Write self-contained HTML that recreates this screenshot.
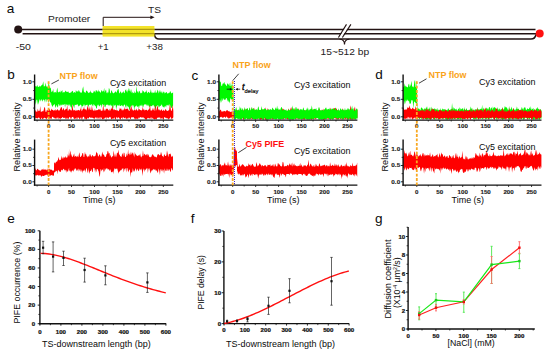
<!DOCTYPE html>
<html><head><meta charset="utf-8"><style>
html,body{margin:0;padding:0;background:#fff;}
svg{display:block;font-family:"Liberation Sans", sans-serif;}
</style></head><body>
<svg width="550" height="353" viewBox="0 0 550 353">
<rect width="550" height="353" fill="#fff"/>
<text x="6.8" y="12.7" font-size="13.6" fill="#0a0a0a">a</text>
<line x1="18" y1="29.5" x2="535.5" y2="29.5" stroke="#231313" stroke-width="1.5" />
<line x1="22.6" y1="33.8" x2="536" y2="33.8" stroke="#231313" stroke-width="1.5" />
<path d="M154.3,33.8 Q155,39.1 159,39.1 L531,39.1 Q535,39.1 536,34.5" fill="none" stroke="#231313" stroke-width="1.5"/>
<path d="M339.6,39.2 C342.6,39.2 344.5,40.2 344.5,44.4 C344.5,40.2 346.4,39.2 349.4,39.2" fill="none" stroke="#231313" stroke-width="1.15"/>
<polygon points="339.2,37.0 347.2,24.4 350.2,24.4 341.9,37.0" fill="#fff"/>
<line x1="338.4" y1="37.5" x2="346.5" y2="24.4" stroke="#231313" stroke-width="1.15" />
<line x1="342.4" y1="37.5" x2="350.9" y2="24.4" stroke="#231313" stroke-width="1.15" />
<rect x="102.6" y="26" width="51.8" height="10.6" fill="#f3e32a"/>
<line x1="102.6" y1="29.3" x2="154.4" y2="29.3" stroke="#b09a10" stroke-width="1.3" />
<line x1="102.6" y1="33.6" x2="154.4" y2="33.6" stroke="#b09a10" stroke-width="1.3" />
<circle cx="18.2" cy="29.5" r="4" fill="#231313"/>
<circle cx="539.7" cy="33.6" r="4" fill="#ff1010"/>
<path d="M103.2,26 V17.3 H151" fill="none" stroke="#231313" stroke-width="1"/>
<polygon points="150.4,15.4 154.6,17.3 150.4,19.2" fill="#231313"/>
<text x="48.1" y="21.9" font-size="8.6" fill="#261c1c" textLength="42.2" lengthAdjust="spacingAndGlyphs">Promoter</text>
<text x="148.1" y="13.1" font-size="8.7" fill="#261c1c" textLength="13" lengthAdjust="spacingAndGlyphs">TS</text>
<text x="15.7" y="49.5" font-size="9.5" fill="#261c1c" textLength="15.2" lengthAdjust="spacingAndGlyphs">-50</text>
<text x="97.7" y="49.5" font-size="9.5" fill="#261c1c" textLength="11" lengthAdjust="spacingAndGlyphs">+1</text>
<text x="146.3" y="49.5" font-size="9.5" fill="#261c1c" textLength="16.6" lengthAdjust="spacingAndGlyphs">+38</text>
<text x="320.6" y="54.8" font-size="8.4" fill="#261c1c" textLength="48.6" lengthAdjust="spacingAndGlyphs">15~512 bp</text>
<polygon points="34.83,85.85 35.41,86.49 36.04,86.04 36.56,87.05 37.19,84.78 37.84,86.75 38.45,86.85 39.02,87.33 39.58,85.57 40.16,86.37 40.89,86.57 41.51,84.89 42.07,85.21 42.69,83.98 43.21,81.22 43.91,86.7 44.5,85.71 44.99,86.65 45.61,82.62 46.26,86.24 46.8,86.84 47.38,86.15 47.96,87.68 48.62,81.88 49.17,84.61 49.76,87.55 50.45,87.87 50.92,88.79 51.41,92.29 52.05,91.43 52.6,91.29 53.13,88.7 53.72,92.7 54.41,91.95 54.95,92.83 55.6,91.86 56.25,93.11 56.78,89.94 57.33,87.52 57.93,92.06 58.57,92.43 59.25,91.18 59.66,92.04 60.44,92.53 60.91,90.23 61.54,91.67 62.22,89.84 62.77,93.04 63.4,91.98 63.99,92.53 64.5,92.26 65.06,91.44 65.8,90.4 66.43,92.11 66.88,91.8 67.58,91.95 68.19,91.36 68.85,92.8 69.27,93 69.95,92.63 70.47,92.99 71.13,91.29 71.66,92.52 72.27,90.79 72.97,91.37 73.6,93.27 74.18,92.29 74.75,92.07 75.44,93.16 75.93,89.78 76.46,91.58 77.09,91.21 77.79,91.83 78.28,89.8 79.04,92.25 79.53,90.15 80.18,93.14 80.82,91.73 81.45,92.95 81.92,92.19 82.49,88.95 83.2,86.36 83.8,91.46 84.36,92.07 85.01,92.77 85.47,93 86.08,91.06 86.83,90.49 87.41,91.52 87.85,92.37 88.65,93.28 89.2,91.89 89.81,92.98 90.33,90.2 90.86,92.16 91.52,92.58 92.17,93.13 92.81,92.84 93.4,92.48 93.93,90.51 94.52,92.02 95.14,89.91 95.74,92.9 96.34,90.08 96.88,90.5 97.46,92.23 98.19,89.51 98.7,91.42 99.42,91.16 99.89,91.84 100.62,92.95 101.15,91.26 101.84,89.71 102.33,92.03 103,90.85 103.53,91.46 104.19,87.75 104.66,92.78 105.32,90.84 106.04,89.51 106.55,92.84 107.14,93.47 107.69,91.96 108.37,92.86 108.9,87.77 109.65,89.55 110.08,92.77 110.73,93.45 111.3,90.11 112.02,91.28 112.5,92.53 113.2,93.14 113.77,93.3 114.44,92.66 114.98,91.72 115.61,91.23 116.14,92.55 116.67,92.57 117.43,89.99 118,89.36 118.47,88.71 119.23,92.99 119.68,93.56 120.41,91.38 120.88,91.52 121.58,93.52 122.09,93.02 122.71,92.26 123.3,91.1 123.94,92.65 124.64,93.19 125.23,89.44 125.73,90.12 126.45,92 126.93,88.97 127.48,92.98 128.25,87.75 128.75,90.75 129.26,91.14 129.91,88.15 130.62,92.5 131.19,89.1 131.8,93.22 132.26,91.5 132.96,93.56 133.63,92.53 134.18,93.47 134.66,90.92 135.35,92.64 135.92,93.06 136.57,85.79 137.17,92.58 137.85,90.8 138.33,93.61 138.92,90.83 139.5,91.02 140.16,92.44 140.73,93.58 141.32,92.43 141.98,93.38 142.65,89.94 143.25,91.17 143.72,91.21 144.34,92.84 144.99,92.2 145.62,92.03 146.17,89.88 146.81,92.06 147.44,93.6 147.96,92.33 148.64,91.82 149.23,92.4 149.77,93.2 150.33,91.64 150.86,89 151.59,93.18 152.1,91.64 152.7,93.31 153.38,92.93 154,92.12 154.5,93.15 155.1,89.72 155.75,93.11 156.43,92.85 156.93,91.88 157.62,89.6 158.19,90.92 158.78,93.56 159.37,91.81 160.01,89.67 160.63,92.75 161.11,90.95 161.77,92.8 162.33,93.5 163.05,91.11 163.59,92.52 164.25,91.87 164.7,93.55 165.31,92.98 166.03,92.3 166.62,92.03 167.1,92.99 167.68,93.64 168.39,93.26 168.88,92.81 169.59,92.76 170.06,90.99 170.68,91.81 171.26,93.45 172.03,93.1 172.65,92.66 173.09,92.23 173.09,105.62 172.65,105.97 172.03,107.73 171.26,108.09 170.68,104.91 170.06,107.8 169.59,104.55 168.88,104.38 168.39,105.81 167.68,105.5 167.1,104.79 166.62,105.1 166.03,107.52 165.31,105.52 164.7,107.93 164.25,106.09 163.59,107.19 163.05,107.3 162.33,105.98 161.77,104.31 161.11,105.38 160.63,106.29 160.01,105.45 159.37,106.89 158.78,107.8 158.19,105.22 157.62,105.26 156.93,106.23 156.43,105.63 155.75,109.58 155.1,107.77 154.5,106.15 154,106.61 153.38,104.67 152.7,104.97 152.1,106.25 151.59,106.26 150.86,105.84 150.33,106.25 149.77,106.65 149.23,106.73 148.64,105.91 147.96,104.29 147.44,105.87 146.81,105.7 146.17,104.3 145.62,104.4 144.99,104.33 144.34,104.51 143.72,105.13 143.25,107.13 142.65,106.71 141.98,104.35 141.32,105.92 140.73,105.71 140.16,105.24 139.5,105.81 138.92,109 138.33,105.92 137.85,106.28 137.17,107.2 136.57,105 135.92,106.75 135.35,106 134.66,107.33 134.18,110.5 133.63,104.64 132.96,106.86 132.26,104.8 131.8,105.4 131.19,106.1 130.62,106.81 129.91,108.55 129.26,110.45 128.75,106.94 128.25,106.68 127.48,105.53 126.93,108.63 126.45,104.26 125.73,107.88 125.23,105.86 124.64,104.38 123.94,104.76 123.3,106.81 122.71,106.36 122.09,105.31 121.58,105.29 120.88,105.84 120.41,105.95 119.68,106.06 119.23,104.34 118.47,106.37 118,104.66 117.43,105.21 116.67,106.96 116.14,109.81 115.61,104.58 114.98,105.39 114.44,105.68 113.77,104.18 113.2,108.41 112.5,108.59 112.02,104.87 111.3,106.18 110.73,105.55 110.08,104.3 109.65,106.01 108.9,104.46 108.37,105.78 107.69,104.94 107.14,104.26 106.55,105.07 106.04,104.64 105.32,107.3 104.66,107.09 104.19,104.18 103.53,105.45 103,104.62 102.33,104.04 101.84,107.92 101.15,105.08 100.62,104.46 99.89,105.97 99.42,106.51 98.7,104.13 98.19,106.02 97.46,104.5 96.88,108.12 96.34,108.75 95.74,106.17 95.14,105.67 94.52,104.47 93.93,106.44 93.4,103.97 92.81,104.71 92.17,106.39 91.52,104.1 90.86,104.4 90.33,105.21 89.81,104.81 89.2,104.45 88.65,107.6 87.85,104.27 87.41,105.8 86.83,104.63 86.08,105.04 85.47,105.28 85.01,106.97 84.36,104.6 83.8,104.15 83.2,106.07 82.49,105.96 81.92,108.02 81.45,105.66 80.82,104.38 80.18,105.06 79.53,105.92 79.04,105.24 78.28,106.63 77.79,104.79 77.09,103.93 76.46,105.02 75.93,104.69 75.44,104.98 74.75,104.85 74.18,108.6 73.6,106.61 72.97,104.89 72.27,104.6 71.66,110.12 71.13,106.81 70.47,106.81 69.95,104.11 69.27,105.42 68.85,105.88 68.19,104.19 67.58,104.71 66.88,105.57 66.43,104.46 65.8,103.87 65.06,107.45 64.5,103.91 63.99,104.26 63.4,105.04 62.77,104.17 62.22,105.35 61.54,104.58 60.91,106.39 60.44,104.34 59.66,106.18 59.25,104.77 58.57,103.77 57.93,107.55 57.33,107.11 56.78,104.67 56.25,106.1 55.6,107.9 54.95,105.44 54.41,103.84 53.72,105.08 53.13,105.57 52.6,107.1 52.05,105.9 51.41,104.57 50.92,101.95 50.45,102.88 49.76,100.66 49.17,100.07 48.62,103.59 47.96,100.05 47.38,99.43 46.8,102.41 46.26,99.28 45.61,99.07 44.99,102.82 44.5,100.44 43.91,99.43 43.21,99.77 42.69,101.76 42.07,100.05 41.51,99.12 40.89,101.41 40.16,99.72 39.58,99.21 39.02,101.76 38.45,104.7 37.84,99.48 37.19,105.11 36.56,99.57 36.04,100.08 35.41,104.91 34.83,101.94" fill="#00f800"/>
<polygon points="34.78,111.55 35.48,109.71 35.96,111.81 36.72,111.44 37.23,111.81 37.82,108.62 38.47,111.29 39.05,110.75 39.7,110.81 40.17,106.01 40.9,112.13 41.41,111.22 41.95,112.11 42.63,110.66 43.24,111.61 43.87,109.59 44.33,107 45.02,107.8 45.53,111.67 46.25,111.9 46.84,109.88 47.51,109.63 48.05,111.23 48.59,110.07 49.18,109.12 49.81,109.16 50.32,111.11 50.95,110.6 51.69,108.55 52.12,109.82 52.88,110.04 53.49,110.88 53.95,109.73 54.53,110.65 55.25,108.92 55.89,111.03 56.35,110.3 56.91,110.1 57.55,108.97 58.14,109.88 58.77,110.7 59.49,110.61 60.1,109.19 60.59,108.22 61.11,106.83 61.89,107.69 62.42,110.38 62.96,109.29 63.55,107.71 64.25,109.88 64.77,110.52 65.46,109.15 65.95,108.85 66.69,108.97 67.17,104.49 67.75,110.72 68.38,110.77 69.08,108.76 69.59,109.13 70.29,110.56 70.86,109.28 71.47,110.97 71.94,109.35 72.52,103.38 73.11,110.96 73.73,109.59 74.34,110.48 75.04,109.52 75.62,110.88 76.28,111.05 76.74,109.77 77.38,110.51 77.9,110.37 78.54,109.67 79.28,110.72 79.76,110.36 80.5,109.27 81.05,106.69 81.62,111.13 82.19,110.46 82.87,108.96 83.41,109.04 84.06,106.51 84.51,109.19 85.27,109.6 85.84,109.2 86.34,110.87 86.92,108.87 87.66,105.09 88.28,110.47 88.88,106.52 89.4,109.91 89.93,105.93 90.52,110.06 91.29,110.22 91.88,105.6 92.48,109.06 92.99,110.5 93.67,110.57 94.24,110.98 94.86,109.03 95.46,110.53 96.07,110.7 96.54,110.06 97.1,109.96 97.71,110.33 98.33,109.02 99.04,110.1 99.65,109.35 100.26,108.74 100.72,110.46 101.34,110.86 101.96,110.83 102.55,110.49 103.23,104.09 103.89,110.44 104.46,110.82 105.06,108.49 105.67,111.04 106.22,108.36 106.8,109.3 107.34,108.6 108.03,109.41 108.63,110.2 109.21,110.88 109.83,108.49 110.41,110.97 110.91,108.5 111.7,108.87 112.22,105.29 112.81,108.73 113.38,109.19 113.96,110.46 114.68,109.01 115.2,110.23 115.75,110.1 116.49,109.52 116.93,110.97 117.61,109.92 118.22,111.16 118.83,110.79 119.42,109.53 119.92,107.86 120.58,109.12 121.22,108.45 121.89,110.56 122.38,109.2 122.93,111.08 123.53,109.55 124.29,109.3 124.86,106.97 125.37,109.46 126.06,109.11 126.65,108.77 127.13,108.91 127.79,108.24 128.47,109.88 128.93,110.87 129.59,110.99 130.12,106.6 130.79,109.9 131.42,104.6 132,110.87 132.69,109 133.14,109.93 133.84,110.88 134.33,109.53 134.94,109.83 135.54,110.75 136.2,108.51 136.84,110.06 137.35,110.17 138,110.9 138.69,108.15 139.17,108.96 139.89,109.76 140.47,109.97 140.99,110.27 141.57,110.6 142.28,109.78 142.76,106.62 143.39,110.05 144.03,109.1 144.53,110.6 145.15,110.17 145.88,109.65 146.36,109.65 146.91,110.09 147.54,110.95 148.24,109.16 148.79,110.03 149.48,108.31 150.05,103.84 150.6,110.83 151.17,110.05 151.8,111.02 152.45,109.57 152.97,107.81 153.58,109.81 154.29,111.08 154.85,106.74 155.31,104.72 155.93,110.89 156.5,109.52 157.2,106.47 157.71,105.71 158.36,110.44 158.96,108.84 159.58,110.29 160.23,110.42 160.77,110.59 161.46,108.98 162.09,110.5 162.59,110.92 163.25,110.61 163.76,109.4 164.3,111.12 164.94,110.61 165.53,108.67 166.25,110.1 166.87,110.95 167.49,110.94 168.09,110.38 168.58,110.4 169.16,110 169.89,104.49 170.46,106.82 170.91,110.19 171.52,111.13 172.29,108.15 172.74,104.55 173.33,110.66 173.33,117.06 172.74,118.78 172.29,118.02 171.52,119.42 170.91,117.31 170.46,116.86 169.89,119.22 169.16,117.84 168.58,119.42 168.09,119.2 167.49,117.88 166.87,118.48 166.25,117.83 165.53,117.95 164.94,117 164.3,117.27 163.76,119.42 163.25,119.42 162.59,118.73 162.09,117.56 161.46,118.97 160.77,117.61 160.23,119.42 159.58,117.08 158.96,117.98 158.36,117.26 157.71,117.86 157.2,117.66 156.5,119.42 155.93,119.42 155.31,118.66 154.85,119.19 154.29,119.42 153.58,118.46 152.97,119.35 152.45,117.59 151.8,119.27 151.17,116.88 150.6,117.87 150.05,119.42 149.48,118.21 148.79,117.83 148.24,118.59 147.54,117.65 146.91,119.42 146.36,119.42 145.88,119.34 145.15,119.42 144.53,117.89 144.03,118.5 143.39,117.29 142.76,117.42 142.28,117.5 141.57,117.8 140.99,116.92 140.47,117.27 139.89,117.19 139.17,118.59 138.69,117.3 138,119.42 137.35,118.76 136.84,118.37 136.2,119.35 135.54,119.42 134.94,117.69 134.33,119.42 133.84,117.29 133.14,117.31 132.69,117.45 132,117.1 131.42,117.25 130.79,118.95 130.12,118.85 129.59,117.92 128.93,117.03 128.47,118.63 127.79,117.64 127.13,119.42 126.65,118.35 126.06,119.42 125.37,117.37 124.86,118.35 124.29,118.23 123.53,117.54 122.93,116.86 122.38,119.42 121.89,117.72 121.22,117.8 120.58,119.42 119.92,119.38 119.42,118.27 118.83,117.21 118.22,117.52 117.61,118.63 116.93,116.87 116.49,117.24 115.75,119.42 115.2,119.21 114.68,117.12 113.96,119.42 113.38,118.04 112.81,118.86 112.22,118.55 111.7,119.42 110.91,118.53 110.41,116.85 109.83,117.56 109.21,116.82 108.63,118.75 108.03,117.46 107.34,117.75 106.8,117.09 106.22,119.42 105.67,117.42 105.06,117.44 104.46,118.87 103.89,118.51 103.23,119.28 102.55,119.15 101.96,118.79 101.34,117.07 100.72,119.39 100.26,116.85 99.65,117.39 99.04,119.42 98.33,117.73 97.71,117.3 97.1,119.42 96.54,117.07 96.07,118.74 95.46,117.04 94.86,118 94.24,119.16 93.67,118.54 92.99,117.75 92.48,117.91 91.88,117.37 91.29,117.99 90.52,117.86 89.93,117.22 89.4,116.97 88.88,118.12 88.28,118.68 87.66,117.41 86.92,119.42 86.34,119.42 85.84,118.34 85.27,119.42 84.51,118.86 84.06,117.01 83.41,116.84 82.87,117.1 82.19,119.31 81.62,119.42 81.05,116.92 80.5,118.05 79.76,119.42 79.28,118.48 78.54,117.7 77.9,117.1 77.38,118.98 76.74,119.42 76.28,117.25 75.62,118.53 75.04,119.04 74.34,118.75 73.73,118.58 73.11,116.87 72.52,116.95 71.94,116.97 71.47,118.32 70.86,119.42 70.29,117.44 69.59,116.89 69.08,117.58 68.38,119.42 67.75,117.42 67.17,119.42 66.69,118.89 65.95,117.2 65.46,119.42 64.77,117.38 64.25,117.99 63.55,117.99 62.96,117.33 62.42,117.06 61.89,117.98 61.11,118.28 60.59,119.42 60.1,117.92 59.49,118.32 58.77,119.42 58.14,117.28 57.55,117.59 56.91,119.42 56.35,117.29 55.89,119.15 55.25,118.05 54.53,118.41 53.95,117.16 53.49,117.97 52.88,116.95 52.12,116.86 51.69,118.5 50.95,119.21 50.32,118.25 49.81,117.66 49.18,119.42 48.59,117.84 48.05,118.14 47.51,117.36 46.84,118.44 46.25,119.42 45.53,118.05 45.02,118.26 44.33,117.4 43.87,118.07 43.24,118.82 42.63,119.16 41.95,118.57 41.41,117.41 40.9,119.42 40.17,119.04 39.7,118.44 39.05,117.47 38.47,117.53 37.82,118.27 37.23,118.49 36.72,118.34 35.96,117.76 35.48,117.89 34.78,119.42" fill="#ff0000"/>
<polygon points="34.75,168.04 35.42,168.61 36.01,170.36 36.72,170.22 37.13,169.1 37.85,168.69 38.4,169.73 39.06,170.03 39.7,170.44 40.28,170.68 40.83,170.52 41.39,169.91 41.97,169.01 42.57,169.77 43.25,168.46 43.75,170.36 44.39,168.92 44.97,170.36 45.6,169.19 46.24,169.42 46.84,170.51 47.37,169.9 48.01,168.05 48.64,170.09 49.3,169.36 49.83,168.58 50.45,169.95 51.07,169.15 51.66,169.99 52.16,170.15 52.92,170.72 53.53,170.45 53.96,170.38 54.09,162.09 54.66,162.98 55.31,163.48 55.98,161.68 56.56,161.73 57.14,161.4 57.74,159.83 57.85,160.53 58.42,156.77 58.91,158.75 59.56,160.18 60.22,159.9 60.79,159.71 61.31,155.42 62,159.24 62.63,157.73 63.21,156.59 63.77,158.65 64.48,156.8 64.98,158.22 65.64,155.67 66.12,158.03 66.75,157.25 67.38,157.42 67.89,154.12 68.64,156.66 69.12,148.2 69.16,156.9 69.94,152.71 70.42,150.4 71.12,156.69 71.64,153.84 72.22,157.14 72.9,156.45 73.48,155.23 74.15,153.13 74.64,157.22 75.35,155.84 75.8,156.35 76.39,157.2 77.02,155.5 77.74,156.73 78.31,157.13 78.86,154.46 79.48,152.14 80.03,156.68 80.7,157.03 81.2,156.18 81.87,155.27 82.37,153.29 83.05,152.74 83.64,157.08 84.26,156.92 84.94,151.81 85.52,154.49 86.08,153.93 86.71,156.19 87.27,156.17 87.79,157.4 88.54,155.55 89.05,157.21 89.63,154.5 90.19,154.02 90.78,155.82 91.43,157.1 92.02,155.61 92.75,155.11 93.22,156.59 93.78,156.28 94.43,156.38 95.15,155.58 95.57,156.09 96.33,151.53 96.82,152.8 97.55,153.4 98.06,156.44 98.68,156.18 99.33,154.28 99.85,154.8 100.5,156.21 100.97,156.94 101.57,156.1 102.24,151.47 102.92,154.53 103.42,154.5 103.99,154.78 104.64,156.79 105.17,156.68 105.91,156.92 106.45,154.23 107.1,154.12 107.56,150.96 108.18,151.26 108.78,153.74 109.53,152.82 109.99,157.03 110.64,154.44 111.21,157.18 111.77,157.49 112.55,155.94 113.14,156.2 113.57,150.4 114.16,153.85 114.89,157.02 115.37,156.55 116.07,152.67 116.7,157.4 117.21,152.48 117.94,152.95 118.5,149.5 119.03,154.3 119.63,154.66 120.33,156.44 120.91,156.15 121.51,157.34 122.13,153.45 122.64,153.43 123.18,156.81 123.79,152.58 124.41,153.01 125.04,156.92 125.61,156.99 126.26,155.94 126.77,153.32 127.46,156.21 128.15,149.27 128.57,154.3 129.27,153.22 129.92,155.48 130.36,154.45 130.99,151.58 131.61,154.74 132.17,153.49 132.94,152.26 133.49,156.24 134.09,151.62 134.75,157.61 135.31,153.29 135.82,153.95 136.38,155.18 137.13,155.74 137.62,156.03 138.33,155.53 138.93,155.28 139.54,155.53 140.08,153.34 140.65,156.19 141.24,157.53 141.94,156.09 142.36,155.91 142.96,150.28 143.7,156.21 144.31,153.85 144.83,154 145.43,155.09 146.07,155.55 146.62,154.29 147.27,153.85 147.91,156.03 148.39,153.99 149.12,156.39 149.7,157.3 150.25,156.81 150.76,157.48 151.44,156.55 152.03,154.82 152.6,154.16 153.23,154.69 153.82,156.01 154.5,156.7 155.07,156.39 155.68,156.96 156.26,157.52 156.86,156.98 157.36,154.64 158.05,154.37 158.59,153.94 159.24,155.19 159.94,155.36 160.4,154.63 161.01,151.75 161.68,154.37 162.25,156.62 162.82,155.72 163.51,157.4 164.07,153.98 164.73,155.04 165.27,155.95 165.95,155.88 166.45,154.94 166.99,150.21 167.71,153.69 168.26,157.29 168.95,153.76 169.51,154.21 170.15,153.54 170.67,154.05 171.31,156.39 171.94,157.1 172.39,155.62 172.98,156.93 172.98,169.56 172.39,170.86 171.94,168.09 171.31,168.41 170.67,172.31 170.15,171.19 169.51,169.48 168.95,168.88 168.26,171.02 167.71,170.87 166.99,168.31 166.45,170.75 165.95,171.18 165.27,170.16 164.73,168.26 164.07,173.76 163.51,170.13 162.82,169.21 162.25,171.48 161.68,170.97 161.01,168.79 160.4,169.89 159.94,174.97 159.24,170.6 158.59,168.51 158.05,172.27 157.36,172.67 156.86,169.67 156.26,171.19 155.68,170.44 155.07,169.12 154.5,169.83 153.82,169.65 153.23,168.76 152.6,170.33 152.03,170.38 151.44,170.5 150.76,173.46 150.25,171.94 149.7,169.7 149.12,168.02 148.39,169.31 147.91,173.08 147.27,168.03 146.62,168.83 146.07,168.51 145.43,170.54 144.83,169.04 144.31,172.35 143.7,168.35 142.96,171.01 142.36,176.25 141.94,170.48 141.24,168.53 140.65,169.25 140.08,170.6 139.54,168.05 138.93,171.2 138.33,170.83 137.62,169.55 137.13,168.42 136.38,171.71 135.82,168.19 135.31,168.65 134.75,171.91 134.09,169.94 133.49,172.07 132.94,168.02 132.17,172.53 131.61,172.43 130.99,172.27 130.36,177.37 129.92,169.13 129.27,169.89 128.57,171.14 128.15,172.44 127.46,168.32 126.77,167.95 126.26,172.61 125.61,168.23 125.04,168.45 124.41,169.6 123.79,172.41 123.18,168.01 122.64,169.37 122.13,168.02 121.51,170.27 120.91,170.12 120.33,170.44 119.63,171.8 119.03,171.46 118.5,173.68 117.94,171.23 117.21,168.42 116.7,168.89 116.07,168.25 115.37,169.51 114.89,168.08 114.16,169.39 113.57,174.34 113.14,170.13 112.55,172.36 111.77,171.89 111.21,172.47 110.64,170.16 109.99,169.05 109.53,171.27 108.78,169.31 108.18,169.31 107.56,169.6 107.1,167.87 106.45,168.76 105.91,168.5 105.17,170.08 104.64,172.09 103.99,167.85 103.42,172.79 102.92,170.02 102.24,169.37 101.57,171.44 100.97,169.1 100.5,169.49 99.85,177.08 99.33,175.57 98.68,171.42 98.06,170.29 97.55,169.09 96.82,168.9 96.33,172.55 95.57,168.68 95.15,173.09 94.43,168.34 93.78,167.8 93.22,168.27 92.75,172.29 92.02,171.46 91.43,168.84 90.78,171.14 90.19,170.71 89.63,172.13 89.05,174.12 88.54,168.09 87.79,173.23 87.27,171.01 86.71,167.84 86.08,168.89 85.52,172.7 84.94,169.09 84.26,170.69 83.64,171.31 83.05,169.83 82.37,173.38 81.87,169.25 81.2,171.72 80.7,171.45 80.03,168.79 79.48,169.93 78.86,171.48 78.31,168.41 77.74,169.51 77.02,170.97 76.39,170.2 75.8,168.09 75.35,168.66 74.64,170.06 74.15,168.28 73.48,171.86 72.9,170.79 72.22,170.29 71.64,171.24 71.12,172.86 70.42,171.33 69.94,170.1 69.16,171.46 69.12,167.63 68.64,169.22 67.89,171.91 67.38,171.26 66.75,169.97 66.12,173.06 65.64,169.54 64.98,170.85 64.48,170.12 63.77,168.71 63.21,168.88 62.63,170.3 62,170.54 61.31,169.47 60.79,171.82 60.22,172.1 59.56,171.49 58.91,170.94 58.42,169.75 57.85,170.48 57.74,174.5 57.14,171.46 56.56,171.01 55.98,170.45 55.31,171.93 54.66,172.39 54.09,172.13 53.96,175.67 53.53,175.94 52.92,174.73 52.16,176.02 51.66,175.12 51.07,174.93 50.45,175.75 49.83,175.42 49.3,175.46 48.64,177.01 48.01,176.19 47.37,174.73 46.84,174.92 46.24,174.62 45.6,174.95 44.97,175.45 44.39,175.4 43.75,176.09 43.25,175.92 42.57,175.83 41.97,175.63 41.39,177.24 40.83,175.23 40.28,175.4 39.7,175.08 39.06,175.69 38.4,175.54 37.85,174.87 37.13,175.14 36.72,175.62 36.01,175.32 35.42,175.52 34.75,175.21" fill="#ff0000"/>
<polygon points="219.02,111.66 219.51,111.09 220.21,109.89 220.7,109.46 221.37,111.03 221.93,111.88 222.53,111.62 223.22,110.67 223.77,111.63 224.26,110.87 224.98,111.24 225.49,111.87 226.13,110.4 226.79,110.54 227.28,110.35 227.93,110.39 228.45,111.57 229.16,110.87 229.64,111.69 230.33,111.88 230.85,111.67 231.53,111.73 232.09,111.19 232.76,111.65 233.77,111.58 234.42,111.49 235.08,110.76 235.66,109.81 236.15,110.39 236.9,109.79 237.38,110.39 237.91,110.57 238.66,111.72 239.18,111.43 239.83,111.42 240.43,111.06 241.09,111.08 241.56,111.49 242.25,109.27 242.73,109.71 243.46,110.68 244,110.36 244.52,108.3 245.2,111.46 245.86,108.96 246.46,108.81 247.09,110.56 247.63,110.97 248.15,110.9 248.86,110.41 249.43,111.5 249.99,110.26 250.55,110.75 251.18,110.77 251.89,107.28 252.37,111.59 253.04,107.87 253.61,108.91 254.21,111.69 254.89,107.57 255.41,111.46 255.92,111.1 256.69,111.73 257.27,109.96 257.85,110.68 258.37,110.68 259.08,110.73 259.62,111.63 260.2,111.46 260.87,111.45 261.39,111.72 262.08,109.95 262.51,108.91 263.21,110.83 263.83,111.2 264.35,111.04 265,109.38 265.55,107.13 266.26,111.3 266.85,110.92 267.37,107.77 267.94,111.22 268.57,109.15 269.18,110.86 269.78,110.77 270.47,111.53 271.02,109.78 271.56,111.41 272.19,110.85 272.72,111.31 273.44,109.37 274.02,110.36 274.6,110.29 275.23,111.74 275.72,111.67 276.49,108.77 276.94,110.29 277.61,109.71 278.18,109.87 278.78,110.06 279.43,109.9 279.98,110.1 280.65,111.25 281.24,111.72 281.73,111.37 282.47,108.83 282.99,108.62 283.63,109.47 284.1,109.78 284.78,110.44 285.36,110.62 285.95,111.35 286.55,111.28 287.3,111.29 287.73,110.91 288.34,108.19 289,110.75 289.54,110.46 290.1,110.18 290.84,107.63 291.31,107.25 292.08,111.05 292.64,111.17 293.19,110.35 293.84,111.2 294.46,107.85 295.04,111.07 295.55,109.67 296.18,109.8 296.86,111.59 297.37,111.17 297.97,110.14 298.59,108.1 299.21,111.43 299.88,111.09 300.47,110.02 301.06,111.44 301.59,110.22 302.29,110.98 302.77,111.36 303.43,110.1 303.93,109.44 304.62,110.76 305.28,110.2 305.73,110.83 306.34,111.38 307.04,110.74 307.63,110.3 308.19,110.71 308.86,111.36 309.41,111.32 309.93,110.69 310.6,111.59 311.25,111.11 311.77,109.69 312.33,109.51 312.92,110.31 313.67,109.12 314.3,111.02 314.83,110.43 315.44,110.85 316,111.59 316.52,110.73 317.27,110.65 317.81,111.12 318.49,111.26 318.97,110.84 319.56,108.02 320.23,110.25 320.87,111.23 321.46,111.3 321.91,109.26 322.56,110.95 323.24,108.55 323.77,111.11 324.37,111.54 325.05,111.55 325.53,111.47 326.21,111.09 326.88,109.38 327.39,110.35 327.93,111.52 328.64,111.06 329.1,109.89 329.79,111.41 330.47,107.41 330.95,109.83 331.65,111.76 332.16,109.63 332.84,111.17 333.43,108.6 334.07,107.92 334.58,108.07 335.14,109.77 335.82,109 336.42,108.33 337.02,109.68 337.53,110.5 338.15,110.73 338.88,111.68 339.42,111 339.96,110.48 340.58,111.73 341.25,110.45 341.73,111.17 342.44,107.92 343.01,111.26 343.66,109.32 344.19,111.3 344.86,111.65 345.39,110.69 345.95,109.82 346.64,110.49 347.22,109.95 347.83,110.67 348.45,109.86 349.09,109.27 349.56,111.58 350.11,108.86 350.71,105.29 351.42,110.08 351.91,110.46 352.65,109.92 353.1,110.72 353.89,111.19 354.32,108.56 354.96,106.44 355.59,111.4 356.3,110.52 356.81,110.99 357.47,108.77 357.47,117.87 356.81,118.01 356.3,118.34 355.59,117.73 354.96,118.41 354.32,119.31 353.89,118.28 353.1,119.42 352.65,119.42 351.91,119.1 351.42,117.73 350.71,119.42 350.11,119.42 349.56,118.31 349.09,119.42 348.45,118.26 347.83,119.42 347.22,119.42 346.64,118.1 345.95,118.77 345.39,119.14 344.86,117.78 344.19,119.42 343.66,119.33 343.01,118.18 342.44,119.42 341.73,118.01 341.25,119.42 340.58,118.89 339.96,117.93 339.42,118.43 338.88,118.88 338.15,119.42 337.53,119.42 337.02,117.96 336.42,119.42 335.82,118.92 335.14,117.79 334.58,118.35 334.07,118.38 333.43,118.5 332.84,118.34 332.16,119.42 331.65,118.41 330.95,119.27 330.47,119.28 329.79,118.93 329.1,117.8 328.64,119.14 327.93,118.35 327.39,118.58 326.88,119.15 326.21,117.68 325.53,119.42 325.05,119.09 324.37,119.42 323.77,119.38 323.24,119.42 322.56,118.37 321.91,118.18 321.46,117.88 320.87,119.1 320.23,118.03 319.56,118.93 318.97,118.22 318.49,117.85 317.81,117.89 317.27,117.9 316.52,117.74 316,119.17 315.44,118.93 314.83,117.75 314.3,119.26 313.67,119.42 312.92,118.08 312.33,119.01 311.77,119.42 311.25,119.42 310.6,118.6 309.93,118.93 309.41,119.24 308.86,118.01 308.19,117.9 307.63,119.42 307.04,119.42 306.34,117.95 305.73,117.91 305.28,117.68 304.62,119.42 303.93,119.42 303.43,119.32 302.77,118.67 302.29,119.42 301.59,119.42 301.06,117.66 300.47,117.87 299.88,118.9 299.21,118.71 298.59,119.32 297.97,118.26 297.37,118.37 296.86,119.42 296.18,117.82 295.55,119.42 295.04,118.98 294.46,118.34 293.84,117.67 293.19,119.42 292.64,119.42 292.08,118.57 291.31,118.24 290.84,119.42 290.1,118.95 289.54,118.03 289,119.02 288.34,118.47 287.73,119.42 287.3,119.02 286.55,117.97 285.95,118.92 285.36,117.86 284.78,117.75 284.1,119.42 283.63,119.42 282.99,118.36 282.47,118.73 281.73,119.42 281.24,118.02 280.65,119.42 279.98,118.04 279.43,119.32 278.78,119.42 278.18,117.7 277.61,118.14 276.94,118.12 276.49,119.42 275.72,119.31 275.23,118.57 274.6,118.55 274.02,118.47 273.44,119.08 272.72,119.42 272.19,118.83 271.56,117.94 271.02,118.78 270.47,119.42 269.78,117.89 269.18,117.66 268.57,118.62 267.94,118.04 267.37,119.42 266.85,119.42 266.26,119.42 265.55,119.42 265,119.42 264.35,117.65 263.83,119.42 263.21,119.42 262.51,119.13 262.08,118.73 261.39,119.34 260.87,119.42 260.2,119.42 259.62,119.09 259.08,117.77 258.37,118.73 257.85,119.42 257.27,118.06 256.69,117.96 255.92,119.42 255.41,119.42 254.89,119.42 254.21,118.68 253.61,117.99 253.04,119.09 252.37,119 251.89,119.27 251.18,118.07 250.55,119.42 249.99,117.73 249.43,119.37 248.86,119.35 248.15,118.72 247.63,119.28 247.09,117.8 246.46,118.51 245.86,118.02 245.2,118.4 244.52,118.25 244,119.42 243.46,119.42 242.73,118.01 242.25,117.84 241.56,118.86 241.09,118.95 240.43,119.42 239.83,118.34 239.18,117.8 238.66,118.07 237.91,118.88 237.38,117.71 236.9,117.73 236.15,118.06 235.66,118.84 235.08,119.42 234.42,119.42 233.77,118.34 232.76,116.55 232.09,118.32 231.53,117.53 230.85,117.19 230.33,118.12 229.64,118.41 229.16,117.84 228.45,118.95 227.93,116.95 227.28,118.13 226.79,116.56 226.13,116.75 225.49,118.2 224.98,117.12 224.26,116.84 223.77,117.61 223.22,117.55 222.53,117.78 221.93,117.52 221.37,116.68 220.7,116.95 220.21,117.18 219.51,118.57 219.02,117.37" fill="#ff0000"/>
<polygon points="218.99,82.82 219.51,79.72 220.12,82 220.73,81.58 221.24,85.56 222,86.27 222.52,83.65 223.06,83.47 223.69,83.49 224.23,81.79 224.91,84.27 225.56,84.26 226.05,85.6 226.67,86.33 227.35,82.9 227.86,83.88 228.53,84.95 229.16,82.78 229.67,85.73 230.4,86.31 230.94,82.07 231.44,86.73 232.21,83.59 232.7,86.02 233.33,85.49 233.84,108.68 234.46,109.22 235.18,110.85 235.64,108.4 236.26,106.98 236.96,110.47 237.54,110.65 238.04,109.22 238.74,109.88 239.2,110.76 239.93,106.03 240.5,109.02 241.03,107.5 241.61,109.9 242.24,109.67 242.84,107.78 243.47,110.7 244.01,110.52 244.78,106.96 245.27,108.97 245.88,110.05 246.47,109.15 247,108.55 247.69,107.96 248.23,110.34 248.86,110.26 249.46,107.16 250.1,108.48 250.66,110.66 251.35,108.86 251.9,106.63 252.4,109.12 253.07,109.34 253.64,107.67 254.36,110.51 254.91,108.97 255.51,109.92 256.01,109.93 256.65,108.66 257.23,110.79 257.93,107.53 258.51,106.25 259.14,110.03 259.64,109.63 260.24,110.09 260.88,109.76 261.54,106.02 262.18,110.47 262.76,108.66 263.35,109.33 263.91,109.38 264.43,108.02 265.01,108.93 265.74,109.12 266.22,109.57 266.95,110.52 267.43,109.57 268.05,110.49 268.65,108.74 269.3,109.61 269.91,109.92 270.59,108.73 270.99,109.47 271.7,109.99 272.38,107.81 272.82,107.74 273.42,109.28 274.08,109.89 274.62,110.05 275.33,108.49 275.88,107.26 276.45,109.66 277.1,105.58 277.69,109.05 278.28,108.2 278.81,110.42 279.49,108.69 279.99,110.43 280.62,108.77 281.19,107.31 281.95,107.33 282.45,110.5 283.01,110.35 283.7,109.78 284.36,109.97 284.84,109.13 285.52,110.4 286.13,109.09 286.62,110.72 287.31,110.68 287.98,110.42 288.41,109.42 289.09,109.41 289.76,110.55 290.22,110.56 290.82,109.14 291.47,110.05 292.19,108.57 292.67,105.28 293.27,109.68 293.9,108 294.46,109.9 295.01,110.53 295.63,107.17 296.22,106.96 296.96,109.72 297.49,108.24 298.15,109.28 298.62,109.52 299.24,110.55 299.91,109.26 300.45,108.66 301,110.14 301.69,108.86 302.2,110.41 302.96,108.39 303.47,107.36 304.08,110.1 304.6,110.26 305.32,110.7 305.92,109.82 306.52,109.67 307.11,107.24 307.7,108.92 308.38,110.65 308.86,108.32 309.55,110.56 310.17,108.44 310.7,109.62 311.19,109.05 311.83,105.36 312.49,109.64 313.02,110.18 313.6,109.48 314.25,108.77 314.96,109 315.47,109.27 316.13,107.97 316.77,110.28 317.25,110.17 317.98,110.18 318.51,107.99 319.09,106.81 319.79,109.79 320.19,110.47 320.91,110.16 321.57,110.21 322.05,110.44 322.64,109.56 323.24,110.64 323.96,110.11 324.56,109.36 325.09,108.76 325.63,107.82 326.21,107.54 326.81,109.79 327.48,109.41 328.11,108.64 328.71,108.94 329.2,109.72 329.98,107.49 330.55,110.49 331.15,108.35 331.76,109.68 332.3,108.2 332.97,109.27 333.4,108.38 334.11,109.7 334.65,109.8 335.22,107.61 335.93,108.16 336.45,110.61 337.16,110.03 337.73,110.74 338.22,108.35 338.95,110.57 339.52,110.85 340.1,109.31 340.79,108.05 341.24,110.07 341.81,109.5 342.41,109.11 343.14,110.77 343.75,109.57 344.37,110.5 344.97,107.87 345.53,110.19 346.1,110.23 346.64,109.61 347.24,109.77 347.81,107.97 348.58,108.63 349.15,110.66 349.62,109.08 350.31,109.34 350.98,110.01 351.49,108.54 352.12,105.62 352.66,109.43 353.35,108.04 353.94,110.77 354.57,110.47 355.16,110.48 355.72,110.08 356.23,108.89 356.99,108.29 357.56,110.25 357.56,119.42 356.99,117.8 356.23,118.92 355.72,119.42 355.16,119.42 354.57,119.42 353.94,117.61 353.35,119.42 352.66,118.38 352.12,119.42 351.49,119.42 350.98,119.42 350.31,117.64 349.62,117.74 349.15,119.42 348.58,119.42 347.81,119.42 347.24,117.75 346.64,117.84 346.1,119.42 345.53,117.77 344.97,117.48 344.37,117.89 343.75,119 343.14,119.42 342.41,119.42 341.81,118.07 341.24,118.25 340.79,119.42 340.1,118.51 339.52,117.93 338.95,117.7 338.22,118.99 337.73,119.31 337.16,118.53 336.45,118.03 335.93,118.02 335.22,117.75 334.65,117.49 334.11,117.94 333.4,119.42 332.97,119.27 332.3,119.42 331.76,118.4 331.15,118.48 330.55,119.42 329.98,119.42 329.2,118.9 328.71,118.11 328.11,117.95 327.48,117.95 326.81,118.42 326.21,119.39 325.63,118.7 325.09,119.42 324.56,117.92 323.96,119.34 323.24,119.42 322.64,119.42 322.05,119.42 321.57,119.42 320.91,119.42 320.19,119.19 319.79,119.42 319.09,119.42 318.51,119.42 317.98,118.05 317.25,118.23 316.77,118.29 316.13,118.14 315.47,118.56 314.96,117.81 314.25,118.2 313.6,119.16 313.02,119.32 312.49,118.89 311.83,119.18 311.19,118.09 310.7,119.42 310.17,119.42 309.55,119.42 308.86,119.42 308.38,119.42 307.7,119.42 307.11,119.09 306.52,119.16 305.92,119.42 305.32,118.64 304.6,117.68 304.08,119.42 303.47,118.2 302.96,119.08 302.2,118.96 301.69,119.42 301,118.79 300.45,119.15 299.91,118.41 299.24,119.23 298.62,118.29 298.15,119.42 297.49,118.16 296.96,118.5 296.22,117.67 295.63,119.42 295.01,118.84 294.46,118.65 293.9,119.42 293.27,119.42 292.67,119.42 292.19,119.42 291.47,119.42 290.82,119.25 290.22,119.42 289.76,119.42 289.09,119.42 288.41,119.42 287.98,118.01 287.31,117.88 286.62,119.28 286.13,118.31 285.52,119.42 284.84,117.71 284.36,117.97 283.7,118.99 283.01,118.51 282.45,119.42 281.95,119.34 281.19,118.79 280.62,119.42 279.99,119.42 279.49,119.36 278.81,118.89 278.28,119.42 277.69,117.93 277.1,119.42 276.45,119.09 275.88,118.97 275.33,119.42 274.62,118.65 274.08,119.42 273.42,118.96 272.82,118.41 272.38,117.88 271.7,119.42 270.99,117.87 270.59,118.98 269.91,119.42 269.3,118.95 268.65,119.42 268.05,119.42 267.43,119.42 266.95,119.42 266.22,119.16 265.74,118.44 265.01,118.16 264.43,117.57 263.91,118.92 263.35,119.42 262.76,119.09 262.18,119.42 261.54,118.07 260.88,117.84 260.24,118.42 259.64,119.42 259.14,119.42 258.51,117.96 257.93,118.67 257.23,119.05 256.65,118.8 256.01,119.42 255.51,119.42 254.91,118.63 254.36,119.42 253.64,118.63 253.07,119.42 252.4,118.73 251.9,118.07 251.35,117.55 250.66,119.04 250.1,118.81 249.46,119.42 248.86,118.37 248.23,119.15 247.69,119.42 247,118.65 246.47,118.11 245.88,118.68 245.27,119.42 244.78,119.02 244.01,119.42 243.47,117.49 242.84,118.08 242.24,118.74 241.61,119.42 241.03,119.42 240.5,119.05 239.93,118.51 239.2,119.42 238.74,118.65 238.04,119.11 237.54,118.61 236.96,118.6 236.26,117.98 235.64,119.42 235.18,119.42 234.46,118.91 233.84,118.6 233.33,100.02 232.7,100.98 232.21,99.07 231.44,99.71 230.94,98.85 230.4,98.11 229.67,103.48 229.16,101.58 228.53,101.68 227.86,99.07 227.35,101.65 226.67,98.12 226.05,97.88 225.56,99.63 224.91,99.51 224.23,100.02 223.69,97.94 223.06,99.96 222.52,101.08 222,97.87 221.24,102.73 220.73,99.47 220.12,103 219.51,98.63 218.99,101.85" fill="#00f800"/>
<polygon points="218.94,163.79 219.5,165.74 220.03,165.01 220.8,163.75 221.33,166.73 221.86,165.37 222.61,165.32 223.21,165.69 223.8,164.75 224.23,164.33 224.88,162.27 225.54,165.19 226.07,165.58 226.74,165 227.27,165.92 228.03,161.25 228.53,164.72 229.23,166.54 229.79,164.25 230.29,166.01 230.92,163.86 231.55,165.57 232.17,165.99 232.79,164.29 233.42,166.17 233.97,148.85 234.57,148.85 235.04,147.13 235.78,150.22 236.26,151.62 236.96,149.7 237,158.11 237.57,162.65 237.7,166.79 238.29,166.44 238.97,166.81 239.46,163.47 240.2,165.91 240.82,166.75 241.34,165.38 242.04,164.46 242.57,164.13 243.06,164.39 243.73,165.23 244.27,165.92 244.96,166.76 245.56,166.75 246.23,166.14 246.66,165.41 247.35,165.96 248.02,166.43 248.62,162.96 249.09,165.18 249.74,164.23 250.26,166.61 250.93,163.91 251.56,165.98 252.19,163.67 252.67,164 253.37,165.52 253.94,166.53 254.52,166.76 255.13,166.84 255.76,166.4 256.45,162.01 256.9,163.75 257.59,166.45 258.17,165.87 258.73,165.33 259.27,164.09 259.88,162.98 260.57,164.67 261.14,164.98 261.75,166.74 262.32,164.85 263.02,166.11 263.57,166.18 264.07,165.65 264.79,165.34 265.41,164.89 265.94,166.07 266.61,166.83 267.2,166.44 267.66,164.5 268.31,165.29 268.94,164.83 269.48,165.25 270.15,163.99 270.79,166.52 271.42,165.17 271.89,166.02 272.56,165.27 273.12,163.7 273.75,166.38 274.45,166.47 275.03,163.4 275.64,165.1 276.2,166.86 276.79,165.97 277.29,166.51 277.92,162.69 278.48,163.45 279.05,165.08 279.68,163.9 280.43,166.19 280.85,165.88 281.63,166.54 282.06,166.13 282.66,161.71 283.42,162.47 283.91,166.52 284.59,166.61 285.05,165.73 285.84,166.16 286.36,166.2 286.89,165.85 287.54,164.69 288.24,165.03 288.79,166.46 289.38,163.09 289.95,164.77 290.47,165.58 291.08,162.94 291.83,165.84 292.37,166.56 292.85,162.2 293.56,166.01 294.11,163.18 294.84,165.98 295.42,165.05 295.93,165.77 296.48,165.99 297.22,166.57 297.72,165.66 298.32,165.68 298.93,166.04 299.47,165.85 300.18,162.84 300.72,166.3 301.4,164.29 301.89,166.03 302.58,166.64 303.17,166.85 303.71,165.29 304.45,165.61 304.85,165.45 305.51,165.2 306.09,166.3 306.66,166.53 307.31,165.07 307.95,164.51 308.51,159.54 309.12,165.21 309.67,166.69 310.35,163.59 310.89,163.95 311.56,165.26 312.17,166.65 312.7,166.08 313.36,165.01 313.87,166.86 314.55,166.74 315.16,163.58 315.69,166.68 316.31,164.12 316.88,166.14 317.64,165.66 318.13,166.7 318.7,165.87 319.36,162.97 319.88,164.58 320.45,166.48 321.25,165.59 321.75,166.2 322.44,165.21 323.01,165.69 323.48,165.25 324.21,164.68 324.79,164.64 325.44,166.86 325.93,165.13 326.49,164.98 327.17,166.79 327.74,165.27 328.37,166.38 328.85,165.59 329.51,166.8 330.09,162.15 330.82,165.98 331.37,166.08 331.95,165.55 332.52,164.59 333.2,165.9 333.68,165.61 334.28,166.05 334.92,163.15 335.57,165.76 336.25,165.72 336.69,164.29 337.4,165.32 337.85,166.82 338.57,163.92 339.14,166.84 339.71,166.42 340.41,166.58 341.04,164.76 341.56,164.74 342.24,166.63 342.84,165.74 343.36,165.71 343.99,166.24 344.63,166.36 345.12,163.79 345.77,166.84 346.37,162.06 347.03,166.63 347.53,165.22 348.23,166.64 348.78,165.81 349.39,166.77 349.95,166.85 350.61,164.87 351.17,166.15 351.84,165.93 352.37,162.52 352.97,166.54 353.54,165.85 354.12,165.67 354.82,165.98 355.26,166.33 355.9,165.02 356.48,165.15 357.23,162.53 357.23,176.84 356.48,175.24 355.9,173.86 355.26,174.65 354.82,176.7 354.12,173.79 353.54,175.82 352.97,174.64 352.37,173.76 351.84,174.72 351.17,175.19 350.61,174.21 349.95,175.53 349.39,174.37 348.78,173.8 348.23,173.28 347.53,178.52 347.03,174.95 346.37,176.86 345.77,176.08 345.12,173.75 344.63,175.77 343.99,174.85 343.36,174.07 342.84,177.23 342.24,173.94 341.56,179.37 341.04,175.27 340.41,174.5 339.71,173.55 339.14,175.67 338.57,173.39 337.85,175.53 337.4,174.24 336.69,174.16 336.25,174.21 335.57,173.54 334.92,175.42 334.28,174.67 333.68,176.93 333.2,174.75 332.52,173.89 331.95,174.51 331.37,174.82 330.82,174.28 330.09,174.8 329.51,175.37 328.85,174.09 328.37,176.52 327.74,173.36 327.17,176.39 326.49,173.57 325.93,174.47 325.44,173.82 324.79,173.54 324.21,173.87 323.48,177.3 323.01,174.47 322.44,174.2 321.75,174.14 321.25,174.74 320.45,174.66 319.88,174.15 319.36,173.61 318.7,175.64 318.13,174.37 317.64,174.01 316.88,174.55 316.31,173.36 315.69,174.58 315.16,176.05 314.55,175.2 313.87,177.04 313.36,175.31 312.7,176.09 312.17,175.67 311.56,175.32 310.89,175.04 310.35,174.58 309.67,173.47 309.12,173.76 308.51,173.66 307.95,174.62 307.31,175.86 306.66,176.07 306.09,175.81 305.51,175.4 304.85,173.56 304.45,174.78 303.71,174 303.17,173.78 302.58,175.83 301.89,174.64 301.4,174.22 300.72,174.1 300.18,174.08 299.47,173.99 298.93,173.77 298.32,174.33 297.72,174.38 297.22,175.21 296.48,174.07 295.93,174.86 295.42,173.97 294.84,173.89 294.11,175.1 293.56,174.12 292.85,175.58 292.37,174.67 291.83,174.02 291.08,173.42 290.47,173.41 289.95,173.56 289.38,175.29 288.79,174.05 288.24,173.9 287.54,174.05 286.89,174.07 286.36,173.9 285.84,177.4 285.05,175.11 284.59,174.8 283.91,175.18 283.42,173.93 282.66,173.84 282.06,174.16 281.63,176 280.85,173.45 280.43,173.71 279.68,178.11 279.05,174.83 278.48,175.01 277.92,174.33 277.29,175.18 276.79,174.52 276.2,173.27 275.64,173.69 275.03,174.77 274.45,177.98 273.75,177.17 273.12,176.4 272.56,174.94 271.89,173.73 271.42,175.42 270.79,174.5 270.15,174.32 269.48,174.65 268.94,174.9 268.31,173.27 267.66,174.58 267.2,175.39 266.61,173.38 265.94,174.47 265.41,175.22 264.79,175.54 264.07,173.72 263.57,176.33 263.02,174.76 262.32,173.39 261.75,175.13 261.14,173.43 260.57,174.95 259.88,173.99 259.27,174.93 258.73,175.73 258.17,178.86 257.59,175.09 256.9,173.82 256.45,174.67 255.76,174.09 255.13,175.22 254.52,174.98 253.94,174.41 253.37,173.94 252.67,173.86 252.19,176.14 251.56,173.75 250.93,176.03 250.26,175.19 249.74,173.55 249.09,175.14 248.62,178.28 248.02,175.27 247.35,174.22 246.66,176.96 246.23,176.16 245.56,177.84 244.96,174.72 244.27,173.76 243.73,174.47 243.06,175.63 242.57,173.92 242.04,176.02 241.34,174.64 240.82,175.65 240.2,175.05 239.46,173.26 238.97,175.04 238.29,173.55 237.7,174.07 237.57,172.68 237,170.41 236.96,165.12 236.26,165.26 235.78,165.62 235.04,167.44 234.57,165.37 233.97,167.87 233.42,173.95 232.79,177.41 232.17,175.2 231.55,174.75 230.92,175.44 230.29,173.7 229.79,173.53 229.23,178.1 228.53,173.76 228.03,174.4 227.27,173.79 226.74,173.97 226.07,174.01 225.54,174.26 224.88,174.34 224.23,175.03 223.8,173.52 223.21,176.67 222.61,175.14 221.86,173.94 221.33,176.03 220.8,175.66 220.03,175.76 219.5,173.76 218.94,173.5" fill="#ff0000"/>
<polygon points="403.06,86.42 403.7,87.14 404.19,86.25 404.84,83.23 405.37,86.63 406.02,85.69 406.58,86.92 407.2,87.28 407.91,87.19 408.35,84.66 409.05,83.56 409.69,87.21 410.26,85.93 410.81,84.5 411.39,80.87 412.12,86.38 412.72,86.46 413.24,87.45 413.82,86.34 414.34,81.74 415.03,79.8 415.6,86.92 416.32,87.26 416.81,79.98 417.4,108.46 417.92,109.16 418.64,108.24 419.23,108.75 419.73,109.4 420.44,110.55 420.98,107.86 421.46,107.49 422.17,107.95 422.84,109.2 423.26,109.57 423.87,109.63 424.63,108.38 425.09,107.72 425.66,109.56 426.38,107.75 427.04,106.16 427.58,109.01 428.08,110.11 428.78,108.76 429.42,108.73 430.03,106.86 430.64,110.4 431.07,110.42 431.73,106.47 432.32,109.58 432.91,108.46 433.48,109.07 434.22,109.3 434.73,108.1 435.42,109.86 436,108.56 436.63,110.56 437.19,107.65 437.73,110.17 438.4,109.54 438.96,110.44 439.62,109.84 440.25,110.13 440.68,108.01 441.34,110.57 442,110.19 442.51,108.19 443.23,109.54 443.68,109.35 444.42,108.98 444.96,110.02 445.53,109.63 446.07,109.85 446.69,110.29 447.37,110.17 448,108.43 448.59,108.55 449.08,109.94 449.68,110.17 450.41,109.84 451.04,108.84 451.52,109.46 452.06,102.99 452.79,109.86 453.36,106.76 453.87,110 454.49,107.72 455.21,109.61 455.78,109.17 456.33,108.55 457.02,110.5 457.59,110.46 458.18,108.47 458.71,109.16 459.33,107.1 459.9,110.48 460.62,108.21 461.22,108.78 461.73,109.59 462.4,107.77 462.86,108.95 463.58,110.4 464.09,107.09 464.66,109.19 465.28,110.1 465.98,109.55 466.5,108.07 467.18,110.29 467.84,110.07 468.25,110.3 468.97,109.71 469.64,110.09 470.17,109.57 470.67,106.21 471.37,109.39 471.97,107.6 472.59,109.78 473.07,110.47 473.84,109.99 474.33,110.47 475.01,108.96 475.5,109.45 476.15,109.56 476.71,110.01 477.34,106.93 478,110.51 478.46,109.11 479.11,109.34 479.71,109.68 480.26,108.98 480.91,108.85 481.63,108.86 482.22,104.85 482.67,110.35 483.44,107.58 483.96,109.64 484.57,110.52 485.09,107.6 485.81,110.36 486.3,108.31 486.87,107.39 487.49,109.38 488.09,107.42 488.75,109.93 489.32,106.88 489.91,106.95 490.58,110.37 491.06,107.44 491.77,107.63 492.33,110.4 492.91,106.32 493.57,108.5 494.08,107.68 494.67,106.94 495.37,107.64 496,108.86 496.53,109.88 497.14,109.16 497.73,106.89 498.28,109.39 499.01,109.81 499.6,108.04 500.07,110.05 500.66,109.54 501.37,108.69 502.04,109.67 502.51,106.66 503.17,109.71 503.76,109.49 504.26,108.41 504.85,105.94 505.47,106.91 506.18,108.12 506.72,106.67 507.37,108.84 508.01,110 508.46,110.53 509.14,105.93 509.82,110.16 510.29,108.61 510.91,110.05 511.46,106.6 512.15,108.64 512.68,110.22 513.37,108.52 513.89,108.84 514.58,109.91 515.13,110.51 515.83,108.92 516.31,109.06 516.97,106.2 517.52,109.35 518.18,108.64 518.69,108.87 519.38,110.28 519.88,110.4 520.45,110.27 521.14,109.71 521.73,106.81 522.31,109.86 522.99,107.2 523.64,110.16 524.15,106.77 524.81,108.02 525.34,107.3 525.96,110.11 526.59,110.02 527.18,108 527.74,108.94 528.33,108.92 528.97,109.27 529.49,107.09 530.24,109.18 530.84,106.09 531.41,110.06 532,109.24 532.56,109.09 533.25,107.85 533.77,110.16 534.29,109.83 535.04,110.23 535.56,110.46 536.07,108.07 536.73,109.23 537.33,106.83 538.01,109.15 538.62,108.6 539.07,109.42 539.71,110.46 540.35,108.99 541.01,109.66 541.47,110.49 541.47,118.12 541.01,119.42 540.35,117.74 539.71,119.42 539.07,119.4 538.62,119.42 538.01,118.02 537.33,119.4 536.73,118.89 536.07,119.42 535.56,118 535.04,118.11 534.29,119.42 533.77,119.42 533.25,119.42 532.56,118.7 532,117.84 531.41,119.42 530.84,117.93 530.24,117.63 529.49,119.42 528.97,118.83 528.33,118.13 527.74,119.3 527.18,119.42 526.59,118.08 525.96,117.51 525.34,117.66 524.81,118.03 524.15,119.42 523.64,119.42 522.99,119.42 522.31,117.54 521.73,119.42 521.14,118.1 520.45,119.11 519.88,119.4 519.38,117.69 518.69,119.42 518.18,117.86 517.52,119.34 516.97,118.8 516.31,119.42 515.83,118.53 515.13,118.22 514.58,118.43 513.89,119.42 513.37,117.61 512.68,119.42 512.15,118.75 511.46,118.73 510.91,117.5 510.29,119.42 509.82,119.42 509.14,119.42 508.46,119.23 508.01,117.65 507.37,118.29 506.72,117.9 506.18,118.94 505.47,117.95 504.85,118.36 504.26,119.18 503.76,118.92 503.17,119.42 502.51,119.42 502.04,119.25 501.37,118.99 500.66,117.5 500.07,118.77 499.6,117.62 499.01,117.74 498.28,119.42 497.73,117.64 497.14,119.42 496.53,119.42 496,118.12 495.37,117.98 494.67,119.42 494.08,117.58 493.57,119.14 492.91,117.87 492.33,117.59 491.77,117.53 491.06,119.42 490.58,117.57 489.91,118.07 489.32,119.42 488.75,119.42 488.09,118.81 487.49,118.24 486.87,118.7 486.3,118.68 485.81,119.42 485.09,118.13 484.57,118.09 483.96,118.1 483.44,117.83 482.67,118.97 482.22,119.42 481.63,118.25 480.91,118.08 480.26,118.74 479.71,117.88 479.11,119.36 478.46,119.42 478,119.23 477.34,117.52 476.71,118.43 476.15,119.42 475.5,118.84 475.01,118.05 474.33,119.42 473.84,119.3 473.07,118.52 472.59,117.64 471.97,117.88 471.37,118.12 470.67,118.13 470.17,119.31 469.64,118.23 468.97,117.96 468.25,118.25 467.84,117.6 467.18,118.22 466.5,117.98 465.98,117.44 465.28,118.78 464.66,119.37 464.09,118.86 463.58,117.55 462.86,118.16 462.4,119.42 461.73,119.37 461.22,118.09 460.62,119.42 459.9,119.36 459.33,117.88 458.71,119.24 458.18,118.93 457.59,119.42 457.02,118.64 456.33,117.53 455.78,117.72 455.21,118.88 454.49,118.64 453.87,119.42 453.36,117.52 452.79,119.42 452.06,118.64 451.52,118.14 451.04,118.29 450.41,119.35 449.68,119.42 449.08,119.42 448.59,118.39 448,119.42 447.37,119.42 446.69,119.42 446.07,119.42 445.53,118.53 444.96,117.5 444.42,117.97 443.68,119.42 443.23,117.8 442.51,119.42 442,118.02 441.34,118.29 440.68,118.01 440.25,119.08 439.62,117.84 438.96,119.42 438.4,119.42 437.73,117.81 437.19,119.14 436.63,118.46 436,117.76 435.42,117.9 434.73,119.42 434.22,119.42 433.48,117.83 432.91,117.52 432.32,117.52 431.73,119.42 431.07,117.97 430.64,119.42 430.03,119.42 429.42,119.29 428.78,118.37 428.08,119.03 427.58,119.42 427.04,118.95 426.38,119.42 425.66,118.98 425.09,119.2 424.63,117.47 423.87,117.49 423.26,119.42 422.84,117.56 422.17,117.82 421.46,119.39 420.98,117.99 420.44,118.04 419.73,119.42 419.23,118.44 418.64,117.55 417.92,118.88 417.4,119.42 416.81,102.53 416.32,104.04 415.6,102.71 415.03,102.33 414.34,101.13 413.82,103.13 413.24,108.72 412.72,100.22 412.12,100.56 411.39,99.95 410.81,103.88 410.26,103.32 409.69,104.01 409.05,101.12 408.35,101.22 407.91,99.32 407.2,100.82 406.58,101.42 406.02,99.15 405.37,102.84 404.84,104.43 404.19,101.35 403.7,99.91 403.06,101" fill="#00f800"/>
<polygon points="403,107.38 403.61,108.09 404.18,109.77 404.81,109.79 405.51,109.39 406.01,109.46 406.57,109.72 407.22,108.26 407.87,107.06 408.48,108.03 409.03,107.73 409.55,105.14 410.14,107.83 410.87,109.09 411.46,109.33 412,108.84 412.59,107.52 413.18,108.19 413.77,108.96 414.42,109.3 415.02,109.31 415.67,106.07 416.21,108.73 416.85,108.28 417.43,110.26 417.94,111.44 418.6,110.5 419.06,110.75 419.72,111.43 420.44,110.83 420.98,109.71 421.65,110.76 422.08,110.7 422.7,109.87 423.41,111.61 424.03,108.93 424.48,110.99 425.15,111.77 425.84,109.04 426.26,108.95 426.88,109.98 427.58,109.62 428.06,111.54 428.74,108.27 429.27,111.08 429.94,111.09 430.53,111.54 431.24,110.62 431.76,108.86 432.42,108.61 432.92,110.47 433.61,108.91 434.25,109.44 434.82,110.79 435.26,111.24 435.93,111.45 436.51,109.2 437.13,111.54 437.75,111.04 438.28,111.81 438.92,111.06 439.49,109.57 440.11,110.44 440.8,110.04 441.34,111.22 441.9,109.94 442.52,111.61 443.14,111.78 443.71,110.38 444.4,111.51 444.9,111.11 445.57,109.28 446.19,110.34 446.79,110.95 447.42,111.65 448,110.99 448.61,111.6 449.15,109.76 449.65,110.03 450.34,110.56 451,111.59 451.48,110.21 452.11,108.29 452.66,111.4 453.37,110.36 453.97,110.37 454.51,110.89 455.06,109.79 455.85,111.68 456.26,110.15 456.95,111.57 457.55,110.64 458.25,111.27 458.73,109.5 459.31,111.16 459.95,111.35 460.63,110.67 461.09,111.56 461.79,110.01 462.31,111.3 462.91,110.46 463.56,111.69 464.13,111.2 464.74,108.78 465.32,110.91 465.92,111.79 466.52,109.49 467.16,111.32 467.8,111.01 468.39,110.63 468.99,110.93 469.53,109.87 470.16,109.83 470.73,111.72 471.37,111.49 471.86,109.02 472.5,111.83 473.18,110.66 473.77,109 474.26,110.97 474.99,111.44 475.55,111.24 476.16,108.75 476.68,111.06 477.44,107.91 477.93,111 478.57,110.24 479.13,110.57 479.85,109.78 480.29,110.11 480.88,110.36 481.63,110.19 482.13,109.75 482.8,111.63 483.26,111.63 484.01,108.33 484.52,109.99 485.17,109.17 485.65,107.58 486.3,111.63 487,111.01 487.6,109.79 488.14,110.47 488.83,110.85 489.27,109.12 489.93,111.44 490.58,111.6 491.22,109.39 491.68,111.13 492.44,109.18 493.04,111.53 493.52,111.66 494.09,109.38 494.7,111.8 495.42,110.83 495.93,107.93 496.53,108.75 497.08,108.92 497.74,111.3 498.27,111.06 498.88,111.57 499.54,111.3 500.23,110.29 500.71,111.56 501.37,110.78 501.99,109.63 502.65,107.77 503.07,108.9 503.81,111.28 504.33,111.79 505.02,109.54 505.47,111.67 506.08,111.37 506.68,111.63 507.26,111.59 507.86,110.45 508.46,111.25 509.21,107.95 509.75,110.53 510.41,111.74 510.86,111.42 511.55,110.8 512.17,110.52 512.82,110.95 513.4,107.84 514,109.66 514.54,111.64 515.24,111.22 515.77,110.92 516.3,110.66 517.01,111.77 517.56,109.37 518.07,111.79 518.73,109.18 519.4,110.22 519.95,110.27 520.56,109.3 521.06,111.12 521.82,110.23 522.37,109.43 522.93,110.4 523.59,111.77 524.15,110.54 524.78,110.48 525.39,110.53 526.02,111.27 526.6,110.98 527.23,111.78 527.76,111.52 528.38,111.55 528.95,110.21 529.46,111.47 530.11,110.92 530.81,110.53 531.37,110.12 531.96,109.89 532.53,110.71 533.25,110.98 533.74,111.57 534.38,109.22 534.89,109.17 535.46,111.35 536.12,109.19 536.85,110.84 537.35,111.8 538,110.77 538.61,110.43 539.1,111.63 539.78,108.86 540.36,109.82 541.05,111.28 541.53,111.26 541.53,117.24 541.05,117.37 540.36,117.82 539.78,119.42 539.1,117.47 538.61,117.74 538,118.25 537.35,119.42 536.85,118.14 536.12,119.42 535.46,119.41 534.89,117.76 534.38,117.32 533.74,117.31 533.25,117.32 532.53,119.18 531.96,119.42 531.37,119.42 530.81,117.62 530.11,118.15 529.46,117.95 528.95,118.3 528.38,117.53 527.76,119.42 527.23,117.47 526.6,118.01 526.02,117.75 525.39,117.38 524.78,117.54 524.15,119.42 523.59,117.62 522.93,118.07 522.37,117.32 521.82,119.02 521.06,118.77 520.56,118.08 519.95,118.52 519.4,118.16 518.73,119.42 518.07,118.75 517.56,119.42 517.01,118.24 516.3,118.02 515.77,118.81 515.24,118.71 514.54,118.01 514,117.6 513.4,119.39 512.82,118.86 512.17,119.42 511.55,117.94 510.86,117.27 510.41,118.97 509.75,118.37 509.21,117.77 508.46,119.42 507.86,117.53 507.26,118.46 506.68,117.97 506.08,119.42 505.47,119.22 505.02,118.24 504.33,119.06 503.81,118.59 503.07,117.33 502.65,119.42 501.99,118.68 501.37,117.59 500.71,117.55 500.23,119.42 499.54,117.93 498.88,119.22 498.27,117.98 497.74,118.85 497.08,117.77 496.53,117.49 495.93,117.57 495.42,117.83 494.7,119.42 494.09,119.42 493.52,118.37 493.04,117.46 492.44,117.37 491.68,118.34 491.22,117.45 490.58,118.16 489.93,117.89 489.27,117.51 488.83,119.42 488.14,118.34 487.6,117.23 487,118.57 486.3,117.66 485.65,118.55 485.17,118.16 484.52,117.23 484.01,119.42 483.26,117.69 482.8,117.38 482.13,118.21 481.63,117.98 480.88,118.25 480.29,118.87 479.85,117.99 479.13,118.39 478.57,119.1 477.93,118.83 477.44,117.63 476.68,117.36 476.16,117.46 475.55,118.67 474.99,118.41 474.26,118.05 473.77,117.46 473.18,118.34 472.5,117.39 471.86,118.12 471.37,117.8 470.73,119.42 470.16,119.42 469.53,117.8 468.99,117.52 468.39,118.38 467.8,119.42 467.16,118.67 466.52,118.55 465.92,117.53 465.32,119.42 464.74,118.7 464.13,118.74 463.56,118.65 462.91,119.42 462.31,118.78 461.79,118.07 461.09,118.54 460.63,117.9 459.95,117.85 459.31,118.79 458.73,118.38 458.25,117.75 457.55,117.91 456.95,118.35 456.26,118.3 455.85,119.42 455.06,117.37 454.51,118.63 453.97,119.15 453.37,117.45 452.66,118.22 452.11,119.42 451.48,119.42 451,117.62 450.34,119.42 449.65,118.01 449.15,117.72 448.61,119.42 448,118.67 447.42,118.9 446.79,117.78 446.19,117.72 445.57,119.42 444.9,117.52 444.4,118.16 443.71,118.39 443.14,117.93 442.52,118.58 441.9,119.05 441.34,117.68 440.8,118.57 440.11,118.73 439.49,118.95 438.92,119.42 438.28,118.8 437.75,117.97 437.13,118.07 436.51,118.35 435.93,119.42 435.26,117.57 434.82,117.7 434.25,117.46 433.61,119.36 432.92,118.51 432.42,117.71 431.76,117.42 431.24,119.41 430.53,119.35 429.94,119.42 429.27,117.64 428.74,118.18 428.06,118.71 427.58,117.71 426.88,117.69 426.26,119.42 425.84,117.89 425.15,118.64 424.48,118.74 424.03,117.41 423.41,119.42 422.7,119.42 422.08,118.02 421.65,117.57 420.98,117.64 420.44,117.81 419.72,118.67 419.06,117.37 418.6,117.29 417.94,118.87 417.43,117.56 416.85,116.89 416.21,118.05 415.67,119.23 415.02,117 414.42,117.88 413.77,119.06 413.18,117.64 412.59,119.42 412,119.42 411.46,117.18 410.87,117.08 410.14,119.42 409.55,116.94 409.03,119.42 408.48,117.02 407.87,116.73 407.22,119.03 406.57,117.7 406.01,119.42 405.51,118.74 404.81,118.29 404.18,119.42 403.61,118.51 403,117.38" fill="#ff0000"/>
<polygon points="403.1,156.33 403.71,155.85 404.23,149.66 404.79,153.36 405.49,153.03 406.07,154.68 406.65,152.22 407.16,155.68 407.85,156.54 408.39,152.13 408.96,156.33 409.67,152.63 410.25,150.83 410.73,155.25 411.49,154.44 412.03,155.18 412.61,155.94 413.14,156.45 413.9,154.48 414.39,151.29 414.97,152.31 415.61,157.1 416.33,150.94 416.92,157.1 417.49,153.53 418.08,156.42 418.63,156.3 419.19,155.11 419.82,155.94 420.4,153.68 421.01,156.57 421.61,156.27 422.19,154.8 422.91,152.73 423.38,153.36 424.03,156.86 424.73,154.3 425.27,154.75 425.82,156.27 426.49,154.78 427.08,155.99 427.66,154.47 428.15,154.88 428.84,155.45 429.48,155.49 430.06,152.19 430.7,157.06 431.2,155.98 431.79,156.94 432.42,154.54 432.98,154.47 433.57,157.15 434.28,156.06 434.77,156.33 435.4,156.29 436.03,154.8 436.65,155.5 437.24,153.62 437.92,157.2 438.5,157.14 438.97,155.78 439.63,152.84 440.28,157.35 440.77,155.22 441.41,152.37 442,154.79 442.57,153.8 443.2,156.39 443.76,157.11 444.41,155.47 444.98,155.85 445.64,157.8 446.06,157.01 446.64,156.26 447.39,155.66 447.91,157.99 448.57,158.06 449.09,155.8 449.81,154.8 450.32,156.88 451.02,155.83 451.58,158.21 452.05,158.07 452.75,155.92 453.25,154.73 454.01,158.43 454.56,158.1 455.1,157.54 455.69,152.77 456.35,157.38 456.87,152.91 457.53,157.1 458.2,156.66 458.78,159.01 459.43,155.42 460,157.29 460.62,158.23 461.19,156.63 461.68,157.69 462.29,150.79 462.87,156.91 463.56,159.32 464.11,158.88 464.78,159.44 465.38,155.29 465.91,160 466.57,156.13 467.17,156.97 467.73,159.17 468.38,159.55 468.97,158.43 469.59,158.48 470.07,158.93 470.78,157.82 471.37,159.07 472,156.91 472.46,158.19 473.19,158.65 473.74,156.8 474.33,158.07 474.86,157.22 475.59,152.92 476.21,153.8 476.65,155.1 477.28,156.32 477.82,154.92 478.47,155.97 479.04,157.13 479.79,152.39 480.37,156.05 480.91,154.91 481.44,157.46 482.03,153.34 482.75,153.81 483.26,157 483.88,154.59 484.51,155.2 485.18,155.21 485.72,153.82 486.28,150.02 486.9,153.95 487.38,152.34 488.03,155.46 488.7,155.91 489.21,156.38 489.88,153.66 490.41,155.93 491.11,156.31 491.67,156.09 492.23,155.72 492.84,154.75 493.44,151.39 493.98,154.39 494.68,155.65 495.33,155.82 495.77,155.31 496.53,156.15 497.15,156.14 497.67,155.63 498.34,155.94 498.78,154.9 499.54,156.13 500.14,155.53 500.74,155.16 501.27,155.82 501.86,155.19 502.51,155.94 503.05,154.77 503.7,148.86 504.26,155.37 504.85,156.43 505.54,155.31 505.99,155.1 506.69,153.93 507.2,152.91 507.91,155.31 508.48,155.16 509.03,153.01 509.69,155.07 510.27,153.26 510.93,153.38 511.5,153.61 512.07,154.08 512.68,155.1 513.23,152.49 513.75,151.65 514.39,151.74 515.05,156.07 515.71,153.05 516.24,153.77 516.79,154.2 517.47,150.55 518.03,154.18 518.67,155.9 519.31,153.84 519.78,154.42 520.45,152.4 521.08,154.58 521.69,155.79 522.23,154.5 522.8,155.29 523.5,154.05 523.97,152.95 524.62,150.35 525.34,149.59 525.85,155.61 526.42,152.38 526.99,152.35 527.56,153.4 528.23,153.95 528.91,155.41 529.41,154.27 530.04,155.9 530.72,151.98 531.16,150.32 531.82,155.08 532.51,153.04 533.12,155.72 533.68,155.47 534.31,155.35 534.89,155.05 535.42,149.28 536.04,155.07 536.75,149.62 537.26,154.12 537.78,155.28 538.53,153.65 538.96,153.94 539.57,152.08 540.27,154.84 540.77,153.48 541.41,154.94 541.41,166.84 540.77,169.17 540.27,165.99 539.57,168.08 538.96,169.44 538.53,165.97 537.78,167.13 537.26,170.78 536.75,168.9 536.04,168.78 535.42,170.78 534.89,167.15 534.31,168.76 533.68,170.94 533.12,169.73 532.51,168.16 531.82,166.16 531.16,165.69 530.72,166.08 530.04,166.79 529.41,167.29 528.91,167.73 528.23,167.89 527.56,167.92 526.99,166.1 526.42,168.86 525.85,168.78 525.34,166 524.62,166.25 523.97,168.19 523.5,167.79 522.8,170.03 522.23,169.47 521.69,171.51 521.08,172.07 520.45,170.73 519.78,166.81 519.31,168.11 518.67,165.83 518.03,166.46 517.47,165.99 516.79,166.27 516.24,167.56 515.71,167.88 515.05,166.51 514.39,171.37 513.75,167.69 513.23,168.04 512.68,168.39 512.07,172.69 511.5,165.97 510.93,167.63 510.27,167.14 509.69,167.53 509.03,172.33 508.48,168.03 507.91,166.28 507.2,167.74 506.69,166.16 505.99,171.3 505.54,168.88 504.85,168.02 504.26,168.93 503.7,168.46 503.05,167.4 502.51,166.17 501.86,169.9 501.27,168.17 500.74,166.84 500.14,168.27 499.54,167.04 498.78,166.27 498.34,167.95 497.67,168.84 497.15,168.67 496.53,170.8 495.77,167.15 495.33,168.4 494.68,168.85 493.98,167.03 493.44,169.31 492.84,167.21 492.23,167.02 491.67,168.46 491.11,166.52 490.41,167.19 489.88,167.4 489.21,168.58 488.7,168.23 488.03,168.73 487.38,166.97 486.9,167.65 486.28,170.13 485.72,166.98 485.18,166.95 484.51,167.38 483.88,169.03 483.26,168.14 482.75,168.1 482.03,168.01 481.44,169.06 480.91,167.13 480.37,170.32 479.79,172.21 479.04,168.48 478.47,168.1 477.82,170.27 477.28,171.78 476.65,171.47 476.21,167.91 475.59,167.85 474.86,167.86 474.33,170.04 473.74,170.25 473.19,168.9 472.46,169.41 472,169.12 471.37,168.59 470.78,169.57 470.07,170.62 469.59,169.65 468.97,168.68 468.38,171.29 467.73,171.62 467.17,168.9 466.57,169.31 465.91,171.27 465.38,172.07 464.78,171.55 464.11,172.98 463.56,172.97 462.87,172.03 462.29,168.93 461.68,169.28 461.19,168.73 460.62,169.84 460,169.71 459.43,171.97 458.78,172.07 458.2,173.52 457.53,170.17 456.87,171.43 456.35,172.35 455.69,169.14 455.1,171.12 454.56,169.46 454.01,171.59 453.25,170 452.75,168.79 452.05,169.13 451.58,174.08 451.02,171.4 450.32,168.7 449.81,171.5 449.09,168.46 448.57,170.16 447.91,168.86 447.39,168.39 446.64,169.38 446.06,169.25 445.64,167.55 444.98,169.35 444.41,168.46 443.76,168.38 443.2,167.33 442.57,168.51 442,170.16 441.41,167.73 440.77,173.65 440.28,167.51 439.63,171.04 438.97,169.16 438.5,169.19 437.92,168.44 437.24,169.23 436.65,168.4 436.03,168.8 435.4,169.67 434.77,167.62 434.28,173.43 433.57,171.46 432.98,170.52 432.42,168.1 431.79,168.16 431.2,172.29 430.7,168.71 430.06,166.87 429.48,171.44 428.84,169.24 428.15,167.83 427.66,168.17 427.08,167.88 426.49,169.29 425.82,167.51 425.27,172.24 424.73,168.29 424.03,173.73 423.38,167.88 422.91,167.43 422.19,167.73 421.61,169.33 421.01,171.52 420.4,170.35 419.82,166.99 419.19,166.96 418.63,168.14 418.08,167.28 417.49,167.36 416.92,169.91 416.33,171.61 415.61,169.13 414.97,167.14 414.39,169.19 413.9,169.7 413.14,170.25 412.61,169.57 412.03,169.55 411.49,167.83 410.73,167.89 410.25,167.95 409.67,167.47 408.96,168.71 408.39,169.42 407.85,169.12 407.16,167.51 406.65,170.39 406.07,169.63 405.49,166.82 404.79,170.65 404.23,168.71 403.71,167.58 403.1,168.25" fill="#ff0000"/>
<line x1="34.6" y1="74.5" x2="34.6" y2="120.7" stroke="#111" stroke-width="1.4" />
<line x1="33.9" y1="120.1" x2="173.29" y2="120.1" stroke="#111" stroke-width="1.3" />
<line x1="32.4" y1="81.8" x2="34.6" y2="81.8" stroke="#111" stroke-width="0.9" />
<text x="31.7" y="83.6" font-size="6.0" fill="#1a1a1a" font-weight="bold" text-anchor="end" textLength="8.9" lengthAdjust="spacingAndGlyphs" stroke="#1a1a1a" stroke-width="0.12">1.0</text>
<line x1="32.4" y1="99.3" x2="34.6" y2="99.3" stroke="#111" stroke-width="0.9" />
<text x="31.7" y="101.1" font-size="6.0" fill="#1a1a1a" font-weight="bold" text-anchor="end" textLength="8.9" lengthAdjust="spacingAndGlyphs" stroke="#1a1a1a" stroke-width="0.12">0.5</text>
<line x1="32.4" y1="116.8" x2="34.6" y2="116.8" stroke="#111" stroke-width="0.9" />
<text x="31.7" y="118.6" font-size="6.0" fill="#1a1a1a" font-weight="bold" text-anchor="end" textLength="8.9" lengthAdjust="spacingAndGlyphs" stroke="#1a1a1a" stroke-width="0.12">0.0</text>
<line x1="33.1" y1="108.05" x2="34.6" y2="108.05" stroke="#111" stroke-width="0.8" />
<line x1="33.1" y1="90.55" x2="34.6" y2="90.55" stroke="#111" stroke-width="0.8" />
<line x1="37.12" y1="120.1" x2="37.12" y2="121.5" stroke="#111" stroke-width="0.8" />
<line x1="48.6" y1="120.1" x2="48.6" y2="122" stroke="#111" stroke-width="0.8" />
<text x="48.6" y="128.4" font-size="5.8" fill="#1a1a1a" font-weight="bold" text-anchor="middle" textLength="3.45" lengthAdjust="spacingAndGlyphs" stroke="#1a1a1a" stroke-width="0.12">0</text>
<line x1="60.08" y1="120.1" x2="60.08" y2="121.5" stroke="#111" stroke-width="0.8" />
<line x1="71.55" y1="120.1" x2="71.55" y2="122" stroke="#111" stroke-width="0.8" />
<text x="71.55" y="128.4" font-size="5.8" fill="#1a1a1a" font-weight="bold" text-anchor="middle" textLength="6.9" lengthAdjust="spacingAndGlyphs" stroke="#1a1a1a" stroke-width="0.12">50</text>
<line x1="83.03" y1="120.1" x2="83.03" y2="121.5" stroke="#111" stroke-width="0.8" />
<line x1="94.5" y1="120.1" x2="94.5" y2="122" stroke="#111" stroke-width="0.8" />
<text x="94.5" y="128.4" font-size="5.8" fill="#1a1a1a" font-weight="bold" text-anchor="middle" textLength="10.35" lengthAdjust="spacingAndGlyphs" stroke="#1a1a1a" stroke-width="0.12">100</text>
<line x1="105.97" y1="120.1" x2="105.97" y2="121.5" stroke="#111" stroke-width="0.8" />
<line x1="117.45" y1="120.1" x2="117.45" y2="122" stroke="#111" stroke-width="0.8" />
<text x="117.45" y="128.4" font-size="5.8" fill="#1a1a1a" font-weight="bold" text-anchor="middle" textLength="10.35" lengthAdjust="spacingAndGlyphs" stroke="#1a1a1a" stroke-width="0.12">150</text>
<line x1="128.93" y1="120.1" x2="128.93" y2="121.5" stroke="#111" stroke-width="0.8" />
<line x1="140.4" y1="120.1" x2="140.4" y2="122" stroke="#111" stroke-width="0.8" />
<text x="140.4" y="128.4" font-size="5.8" fill="#1a1a1a" font-weight="bold" text-anchor="middle" textLength="10.35" lengthAdjust="spacingAndGlyphs" stroke="#1a1a1a" stroke-width="0.12">200</text>
<line x1="151.88" y1="120.1" x2="151.88" y2="121.5" stroke="#111" stroke-width="0.8" />
<line x1="163.35" y1="120.1" x2="163.35" y2="122" stroke="#111" stroke-width="0.8" />
<text x="163.35" y="128.4" font-size="5.8" fill="#1a1a1a" font-weight="bold" text-anchor="middle" textLength="10.35" lengthAdjust="spacingAndGlyphs" stroke="#1a1a1a" stroke-width="0.12">250</text>
<line x1="34.6" y1="139.6" x2="34.6" y2="185.7" stroke="#111" stroke-width="1.4" />
<line x1="33.9" y1="185.1" x2="173.29" y2="185.1" stroke="#111" stroke-width="1.3" />
<line x1="32.4" y1="149.2" x2="34.6" y2="149.2" stroke="#111" stroke-width="0.9" />
<text x="31.7" y="151" font-size="6.0" fill="#1a1a1a" font-weight="bold" text-anchor="end" textLength="8.9" lengthAdjust="spacingAndGlyphs" stroke="#1a1a1a" stroke-width="0.12">1.0</text>
<line x1="32.4" y1="165.5" x2="34.6" y2="165.5" stroke="#111" stroke-width="0.9" />
<text x="31.7" y="167.3" font-size="6.0" fill="#1a1a1a" font-weight="bold" text-anchor="end" textLength="8.9" lengthAdjust="spacingAndGlyphs" stroke="#1a1a1a" stroke-width="0.12">0.5</text>
<line x1="32.4" y1="181.8" x2="34.6" y2="181.8" stroke="#111" stroke-width="0.9" />
<text x="31.7" y="183.6" font-size="6.0" fill="#1a1a1a" font-weight="bold" text-anchor="end" textLength="8.9" lengthAdjust="spacingAndGlyphs" stroke="#1a1a1a" stroke-width="0.12">0.0</text>
<line x1="33.1" y1="173.65" x2="34.6" y2="173.65" stroke="#111" stroke-width="0.8" />
<line x1="33.1" y1="157.35" x2="34.6" y2="157.35" stroke="#111" stroke-width="0.8" />
<line x1="37.12" y1="185.1" x2="37.12" y2="186.5" stroke="#111" stroke-width="0.8" />
<line x1="48.6" y1="185.1" x2="48.6" y2="187" stroke="#111" stroke-width="0.8" />
<text x="48.6" y="193.8" font-size="5.8" fill="#1a1a1a" font-weight="bold" text-anchor="middle" textLength="3.45" lengthAdjust="spacingAndGlyphs" stroke="#1a1a1a" stroke-width="0.12">0</text>
<line x1="60.08" y1="185.1" x2="60.08" y2="186.5" stroke="#111" stroke-width="0.8" />
<line x1="71.55" y1="185.1" x2="71.55" y2="187" stroke="#111" stroke-width="0.8" />
<text x="71.55" y="193.8" font-size="5.8" fill="#1a1a1a" font-weight="bold" text-anchor="middle" textLength="6.9" lengthAdjust="spacingAndGlyphs" stroke="#1a1a1a" stroke-width="0.12">50</text>
<line x1="83.03" y1="185.1" x2="83.03" y2="186.5" stroke="#111" stroke-width="0.8" />
<line x1="94.5" y1="185.1" x2="94.5" y2="187" stroke="#111" stroke-width="0.8" />
<text x="94.5" y="193.8" font-size="5.8" fill="#1a1a1a" font-weight="bold" text-anchor="middle" textLength="10.35" lengthAdjust="spacingAndGlyphs" stroke="#1a1a1a" stroke-width="0.12">100</text>
<line x1="105.97" y1="185.1" x2="105.97" y2="186.5" stroke="#111" stroke-width="0.8" />
<line x1="117.45" y1="185.1" x2="117.45" y2="187" stroke="#111" stroke-width="0.8" />
<text x="117.45" y="193.8" font-size="5.8" fill="#1a1a1a" font-weight="bold" text-anchor="middle" textLength="10.35" lengthAdjust="spacingAndGlyphs" stroke="#1a1a1a" stroke-width="0.12">150</text>
<line x1="128.93" y1="185.1" x2="128.93" y2="186.5" stroke="#111" stroke-width="0.8" />
<line x1="140.4" y1="185.1" x2="140.4" y2="187" stroke="#111" stroke-width="0.8" />
<text x="140.4" y="193.8" font-size="5.8" fill="#1a1a1a" font-weight="bold" text-anchor="middle" textLength="10.35" lengthAdjust="spacingAndGlyphs" stroke="#1a1a1a" stroke-width="0.12">200</text>
<line x1="151.88" y1="185.1" x2="151.88" y2="186.5" stroke="#111" stroke-width="0.8" />
<line x1="163.35" y1="185.1" x2="163.35" y2="187" stroke="#111" stroke-width="0.8" />
<text x="163.35" y="193.8" font-size="5.8" fill="#1a1a1a" font-weight="bold" text-anchor="middle" textLength="10.35" lengthAdjust="spacingAndGlyphs" stroke="#1a1a1a" stroke-width="0.12">250</text>
<text x="7.2" y="79" font-size="13.5" fill="#0a0a0a">b</text>
<line x1="48.6" y1="81.3" x2="48.6" y2="185.2" stroke="#f8a820" stroke-width="1.8" stroke-dasharray="2.8 1.6"/>
<line x1="218.9" y1="74.5" x2="218.9" y2="120.7" stroke="#111" stroke-width="1.4" />
<line x1="218.2" y1="120.1" x2="357.39" y2="120.1" stroke="#111" stroke-width="1.3" />
<line x1="216.7" y1="81.8" x2="218.9" y2="81.8" stroke="#111" stroke-width="0.9" />
<text x="216" y="83.6" font-size="6.0" fill="#1a1a1a" font-weight="bold" text-anchor="end" textLength="8.9" lengthAdjust="spacingAndGlyphs" stroke="#1a1a1a" stroke-width="0.12">1.0</text>
<line x1="216.7" y1="99.3" x2="218.9" y2="99.3" stroke="#111" stroke-width="0.9" />
<text x="216" y="101.1" font-size="6.0" fill="#1a1a1a" font-weight="bold" text-anchor="end" textLength="8.9" lengthAdjust="spacingAndGlyphs" stroke="#1a1a1a" stroke-width="0.12">0.5</text>
<line x1="216.7" y1="116.8" x2="218.9" y2="116.8" stroke="#111" stroke-width="0.9" />
<text x="216" y="118.6" font-size="6.0" fill="#1a1a1a" font-weight="bold" text-anchor="end" textLength="8.9" lengthAdjust="spacingAndGlyphs" stroke="#1a1a1a" stroke-width="0.12">0.0</text>
<line x1="217.4" y1="108.05" x2="218.9" y2="108.05" stroke="#111" stroke-width="0.8" />
<line x1="217.4" y1="90.55" x2="218.9" y2="90.55" stroke="#111" stroke-width="0.8" />
<line x1="221.22" y1="120.1" x2="221.22" y2="121.5" stroke="#111" stroke-width="0.8" />
<line x1="232.7" y1="120.1" x2="232.7" y2="122" stroke="#111" stroke-width="0.8" />
<text x="232.7" y="128.4" font-size="5.8" fill="#1a1a1a" font-weight="bold" text-anchor="middle" textLength="3.45" lengthAdjust="spacingAndGlyphs" stroke="#1a1a1a" stroke-width="0.12">0</text>
<line x1="244.17" y1="120.1" x2="244.17" y2="121.5" stroke="#111" stroke-width="0.8" />
<line x1="255.65" y1="120.1" x2="255.65" y2="122" stroke="#111" stroke-width="0.8" />
<text x="255.65" y="128.4" font-size="5.8" fill="#1a1a1a" font-weight="bold" text-anchor="middle" textLength="6.9" lengthAdjust="spacingAndGlyphs" stroke="#1a1a1a" stroke-width="0.12">50</text>
<line x1="267.12" y1="120.1" x2="267.12" y2="121.5" stroke="#111" stroke-width="0.8" />
<line x1="278.6" y1="120.1" x2="278.6" y2="122" stroke="#111" stroke-width="0.8" />
<text x="278.6" y="128.4" font-size="5.8" fill="#1a1a1a" font-weight="bold" text-anchor="middle" textLength="10.35" lengthAdjust="spacingAndGlyphs" stroke="#1a1a1a" stroke-width="0.12">100</text>
<line x1="290.07" y1="120.1" x2="290.07" y2="121.5" stroke="#111" stroke-width="0.8" />
<line x1="301.55" y1="120.1" x2="301.55" y2="122" stroke="#111" stroke-width="0.8" />
<text x="301.55" y="128.4" font-size="5.8" fill="#1a1a1a" font-weight="bold" text-anchor="middle" textLength="10.35" lengthAdjust="spacingAndGlyphs" stroke="#1a1a1a" stroke-width="0.12">150</text>
<line x1="313.02" y1="120.1" x2="313.02" y2="121.5" stroke="#111" stroke-width="0.8" />
<line x1="324.5" y1="120.1" x2="324.5" y2="122" stroke="#111" stroke-width="0.8" />
<text x="324.5" y="128.4" font-size="5.8" fill="#1a1a1a" font-weight="bold" text-anchor="middle" textLength="10.35" lengthAdjust="spacingAndGlyphs" stroke="#1a1a1a" stroke-width="0.12">200</text>
<line x1="335.98" y1="120.1" x2="335.98" y2="121.5" stroke="#111" stroke-width="0.8" />
<line x1="347.45" y1="120.1" x2="347.45" y2="122" stroke="#111" stroke-width="0.8" />
<text x="347.45" y="128.4" font-size="5.8" fill="#1a1a1a" font-weight="bold" text-anchor="middle" textLength="10.35" lengthAdjust="spacingAndGlyphs" stroke="#1a1a1a" stroke-width="0.12">250</text>
<line x1="218.9" y1="139.6" x2="218.9" y2="185.7" stroke="#111" stroke-width="1.4" />
<line x1="218.2" y1="185.1" x2="357.39" y2="185.1" stroke="#111" stroke-width="1.3" />
<line x1="216.7" y1="149.2" x2="218.9" y2="149.2" stroke="#111" stroke-width="0.9" />
<text x="216" y="151" font-size="6.0" fill="#1a1a1a" font-weight="bold" text-anchor="end" textLength="8.9" lengthAdjust="spacingAndGlyphs" stroke="#1a1a1a" stroke-width="0.12">1.0</text>
<line x1="216.7" y1="165.5" x2="218.9" y2="165.5" stroke="#111" stroke-width="0.9" />
<text x="216" y="167.3" font-size="6.0" fill="#1a1a1a" font-weight="bold" text-anchor="end" textLength="8.9" lengthAdjust="spacingAndGlyphs" stroke="#1a1a1a" stroke-width="0.12">0.5</text>
<line x1="216.7" y1="181.8" x2="218.9" y2="181.8" stroke="#111" stroke-width="0.9" />
<text x="216" y="183.6" font-size="6.0" fill="#1a1a1a" font-weight="bold" text-anchor="end" textLength="8.9" lengthAdjust="spacingAndGlyphs" stroke="#1a1a1a" stroke-width="0.12">0.0</text>
<line x1="217.4" y1="173.65" x2="218.9" y2="173.65" stroke="#111" stroke-width="0.8" />
<line x1="217.4" y1="157.35" x2="218.9" y2="157.35" stroke="#111" stroke-width="0.8" />
<line x1="221.22" y1="185.1" x2="221.22" y2="186.5" stroke="#111" stroke-width="0.8" />
<line x1="232.7" y1="185.1" x2="232.7" y2="187" stroke="#111" stroke-width="0.8" />
<text x="232.7" y="193.8" font-size="5.8" fill="#1a1a1a" font-weight="bold" text-anchor="middle" textLength="3.45" lengthAdjust="spacingAndGlyphs" stroke="#1a1a1a" stroke-width="0.12">0</text>
<line x1="244.17" y1="185.1" x2="244.17" y2="186.5" stroke="#111" stroke-width="0.8" />
<line x1="255.65" y1="185.1" x2="255.65" y2="187" stroke="#111" stroke-width="0.8" />
<text x="255.65" y="193.8" font-size="5.8" fill="#1a1a1a" font-weight="bold" text-anchor="middle" textLength="6.9" lengthAdjust="spacingAndGlyphs" stroke="#1a1a1a" stroke-width="0.12">50</text>
<line x1="267.12" y1="185.1" x2="267.12" y2="186.5" stroke="#111" stroke-width="0.8" />
<line x1="278.6" y1="185.1" x2="278.6" y2="187" stroke="#111" stroke-width="0.8" />
<text x="278.6" y="193.8" font-size="5.8" fill="#1a1a1a" font-weight="bold" text-anchor="middle" textLength="10.35" lengthAdjust="spacingAndGlyphs" stroke="#1a1a1a" stroke-width="0.12">100</text>
<line x1="290.07" y1="185.1" x2="290.07" y2="186.5" stroke="#111" stroke-width="0.8" />
<line x1="301.55" y1="185.1" x2="301.55" y2="187" stroke="#111" stroke-width="0.8" />
<text x="301.55" y="193.8" font-size="5.8" fill="#1a1a1a" font-weight="bold" text-anchor="middle" textLength="10.35" lengthAdjust="spacingAndGlyphs" stroke="#1a1a1a" stroke-width="0.12">150</text>
<line x1="313.02" y1="185.1" x2="313.02" y2="186.5" stroke="#111" stroke-width="0.8" />
<line x1="324.5" y1="185.1" x2="324.5" y2="187" stroke="#111" stroke-width="0.8" />
<text x="324.5" y="193.8" font-size="5.8" fill="#1a1a1a" font-weight="bold" text-anchor="middle" textLength="10.35" lengthAdjust="spacingAndGlyphs" stroke="#1a1a1a" stroke-width="0.12">200</text>
<line x1="335.98" y1="185.1" x2="335.98" y2="186.5" stroke="#111" stroke-width="0.8" />
<line x1="347.45" y1="185.1" x2="347.45" y2="187" stroke="#111" stroke-width="0.8" />
<text x="347.45" y="193.8" font-size="5.8" fill="#1a1a1a" font-weight="bold" text-anchor="middle" textLength="10.35" lengthAdjust="spacingAndGlyphs" stroke="#1a1a1a" stroke-width="0.12">250</text>
<text x="191.4" y="79.6" font-size="13.5" fill="#0a0a0a">c</text>
<line x1="232.7" y1="81.3" x2="232.7" y2="185.2" stroke="#f8a820" stroke-width="1.8" stroke-dasharray="2.8 1.6"/>
<line x1="403.1" y1="74.5" x2="403.1" y2="120.7" stroke="#111" stroke-width="1.4" />
<line x1="402.4" y1="120.1" x2="541.49" y2="120.1" stroke="#111" stroke-width="1.3" />
<line x1="400.9" y1="81.8" x2="403.1" y2="81.8" stroke="#111" stroke-width="0.9" />
<text x="400.2" y="83.6" font-size="6.0" fill="#1a1a1a" font-weight="bold" text-anchor="end" textLength="8.9" lengthAdjust="spacingAndGlyphs" stroke="#1a1a1a" stroke-width="0.12">1.0</text>
<line x1="400.9" y1="99.3" x2="403.1" y2="99.3" stroke="#111" stroke-width="0.9" />
<text x="400.2" y="101.1" font-size="6.0" fill="#1a1a1a" font-weight="bold" text-anchor="end" textLength="8.9" lengthAdjust="spacingAndGlyphs" stroke="#1a1a1a" stroke-width="0.12">0.5</text>
<line x1="400.9" y1="116.8" x2="403.1" y2="116.8" stroke="#111" stroke-width="0.9" />
<text x="400.2" y="118.6" font-size="6.0" fill="#1a1a1a" font-weight="bold" text-anchor="end" textLength="8.9" lengthAdjust="spacingAndGlyphs" stroke="#1a1a1a" stroke-width="0.12">0.0</text>
<line x1="401.6" y1="108.05" x2="403.1" y2="108.05" stroke="#111" stroke-width="0.8" />
<line x1="401.6" y1="90.55" x2="403.1" y2="90.55" stroke="#111" stroke-width="0.8" />
<line x1="405.32" y1="120.1" x2="405.32" y2="121.5" stroke="#111" stroke-width="0.8" />
<line x1="416.8" y1="120.1" x2="416.8" y2="122" stroke="#111" stroke-width="0.8" />
<text x="416.8" y="128.4" font-size="5.8" fill="#1a1a1a" font-weight="bold" text-anchor="middle" textLength="3.45" lengthAdjust="spacingAndGlyphs" stroke="#1a1a1a" stroke-width="0.12">0</text>
<line x1="428.28" y1="120.1" x2="428.28" y2="121.5" stroke="#111" stroke-width="0.8" />
<line x1="439.75" y1="120.1" x2="439.75" y2="122" stroke="#111" stroke-width="0.8" />
<text x="439.75" y="128.4" font-size="5.8" fill="#1a1a1a" font-weight="bold" text-anchor="middle" textLength="6.9" lengthAdjust="spacingAndGlyphs" stroke="#1a1a1a" stroke-width="0.12">50</text>
<line x1="451.23" y1="120.1" x2="451.23" y2="121.5" stroke="#111" stroke-width="0.8" />
<line x1="462.7" y1="120.1" x2="462.7" y2="122" stroke="#111" stroke-width="0.8" />
<text x="462.7" y="128.4" font-size="5.8" fill="#1a1a1a" font-weight="bold" text-anchor="middle" textLength="10.35" lengthAdjust="spacingAndGlyphs" stroke="#1a1a1a" stroke-width="0.12">100</text>
<line x1="474.18" y1="120.1" x2="474.18" y2="121.5" stroke="#111" stroke-width="0.8" />
<line x1="485.65" y1="120.1" x2="485.65" y2="122" stroke="#111" stroke-width="0.8" />
<text x="485.65" y="128.4" font-size="5.8" fill="#1a1a1a" font-weight="bold" text-anchor="middle" textLength="10.35" lengthAdjust="spacingAndGlyphs" stroke="#1a1a1a" stroke-width="0.12">150</text>
<line x1="497.12" y1="120.1" x2="497.12" y2="121.5" stroke="#111" stroke-width="0.8" />
<line x1="508.6" y1="120.1" x2="508.6" y2="122" stroke="#111" stroke-width="0.8" />
<text x="508.6" y="128.4" font-size="5.8" fill="#1a1a1a" font-weight="bold" text-anchor="middle" textLength="10.35" lengthAdjust="spacingAndGlyphs" stroke="#1a1a1a" stroke-width="0.12">200</text>
<line x1="520.08" y1="120.1" x2="520.08" y2="121.5" stroke="#111" stroke-width="0.8" />
<line x1="531.55" y1="120.1" x2="531.55" y2="122" stroke="#111" stroke-width="0.8" />
<text x="531.55" y="128.4" font-size="5.8" fill="#1a1a1a" font-weight="bold" text-anchor="middle" textLength="10.35" lengthAdjust="spacingAndGlyphs" stroke="#1a1a1a" stroke-width="0.12">250</text>
<line x1="403.1" y1="139.6" x2="403.1" y2="185.7" stroke="#111" stroke-width="1.4" />
<line x1="402.4" y1="185.1" x2="541.49" y2="185.1" stroke="#111" stroke-width="1.3" />
<line x1="400.9" y1="149.2" x2="403.1" y2="149.2" stroke="#111" stroke-width="0.9" />
<text x="400.2" y="151" font-size="6.0" fill="#1a1a1a" font-weight="bold" text-anchor="end" textLength="8.9" lengthAdjust="spacingAndGlyphs" stroke="#1a1a1a" stroke-width="0.12">1.0</text>
<line x1="400.9" y1="165.5" x2="403.1" y2="165.5" stroke="#111" stroke-width="0.9" />
<text x="400.2" y="167.3" font-size="6.0" fill="#1a1a1a" font-weight="bold" text-anchor="end" textLength="8.9" lengthAdjust="spacingAndGlyphs" stroke="#1a1a1a" stroke-width="0.12">0.5</text>
<line x1="400.9" y1="181.8" x2="403.1" y2="181.8" stroke="#111" stroke-width="0.9" />
<text x="400.2" y="183.6" font-size="6.0" fill="#1a1a1a" font-weight="bold" text-anchor="end" textLength="8.9" lengthAdjust="spacingAndGlyphs" stroke="#1a1a1a" stroke-width="0.12">0.0</text>
<line x1="401.6" y1="173.65" x2="403.1" y2="173.65" stroke="#111" stroke-width="0.8" />
<line x1="401.6" y1="157.35" x2="403.1" y2="157.35" stroke="#111" stroke-width="0.8" />
<line x1="405.32" y1="185.1" x2="405.32" y2="186.5" stroke="#111" stroke-width="0.8" />
<line x1="416.8" y1="185.1" x2="416.8" y2="187" stroke="#111" stroke-width="0.8" />
<text x="416.8" y="193.8" font-size="5.8" fill="#1a1a1a" font-weight="bold" text-anchor="middle" textLength="3.45" lengthAdjust="spacingAndGlyphs" stroke="#1a1a1a" stroke-width="0.12">0</text>
<line x1="428.28" y1="185.1" x2="428.28" y2="186.5" stroke="#111" stroke-width="0.8" />
<line x1="439.75" y1="185.1" x2="439.75" y2="187" stroke="#111" stroke-width="0.8" />
<text x="439.75" y="193.8" font-size="5.8" fill="#1a1a1a" font-weight="bold" text-anchor="middle" textLength="6.9" lengthAdjust="spacingAndGlyphs" stroke="#1a1a1a" stroke-width="0.12">50</text>
<line x1="451.23" y1="185.1" x2="451.23" y2="186.5" stroke="#111" stroke-width="0.8" />
<line x1="462.7" y1="185.1" x2="462.7" y2="187" stroke="#111" stroke-width="0.8" />
<text x="462.7" y="193.8" font-size="5.8" fill="#1a1a1a" font-weight="bold" text-anchor="middle" textLength="10.35" lengthAdjust="spacingAndGlyphs" stroke="#1a1a1a" stroke-width="0.12">100</text>
<line x1="474.18" y1="185.1" x2="474.18" y2="186.5" stroke="#111" stroke-width="0.8" />
<line x1="485.65" y1="185.1" x2="485.65" y2="187" stroke="#111" stroke-width="0.8" />
<text x="485.65" y="193.8" font-size="5.8" fill="#1a1a1a" font-weight="bold" text-anchor="middle" textLength="10.35" lengthAdjust="spacingAndGlyphs" stroke="#1a1a1a" stroke-width="0.12">150</text>
<line x1="497.12" y1="185.1" x2="497.12" y2="186.5" stroke="#111" stroke-width="0.8" />
<line x1="508.6" y1="185.1" x2="508.6" y2="187" stroke="#111" stroke-width="0.8" />
<text x="508.6" y="193.8" font-size="5.8" fill="#1a1a1a" font-weight="bold" text-anchor="middle" textLength="10.35" lengthAdjust="spacingAndGlyphs" stroke="#1a1a1a" stroke-width="0.12">200</text>
<line x1="520.08" y1="185.1" x2="520.08" y2="186.5" stroke="#111" stroke-width="0.8" />
<line x1="531.55" y1="185.1" x2="531.55" y2="187" stroke="#111" stroke-width="0.8" />
<text x="531.55" y="193.8" font-size="5.8" fill="#1a1a1a" font-weight="bold" text-anchor="middle" textLength="10.35" lengthAdjust="spacingAndGlyphs" stroke="#1a1a1a" stroke-width="0.12">250</text>
<text x="375.3" y="78.8" font-size="13.5" fill="#0a0a0a">d</text>
<line x1="416.8" y1="81.3" x2="416.8" y2="185.2" stroke="#f8a820" stroke-width="1.8" stroke-dasharray="2.8 1.6"/>
<line x1="234.5" y1="81" x2="234.5" y2="185" stroke="#4020c8" stroke-width="1.0" stroke-dasharray="1 1"/>
<text x="59.6" y="79.4" font-size="8.6" fill="#f9a31a" font-weight="bold" textLength="38" lengthAdjust="spacingAndGlyphs">NTP flow</text>
<line x1="51.4" y1="83.9" x2="58.9" y2="80" stroke="#111" stroke-width="0.8" />
<text x="232.6" y="68" font-size="8.6" fill="#f9a31a" font-weight="bold" textLength="38" lengthAdjust="spacingAndGlyphs">NTP flow</text>
<line x1="232.7" y1="80.7" x2="238.7" y2="73.8" stroke="#111" stroke-width="0.8" />
<text x="428.5" y="77.7" font-size="8.6" fill="#f9a31a" font-weight="bold" textLength="38" lengthAdjust="spacingAndGlyphs">NTP flow</text>
<line x1="419" y1="83.2" x2="426.5" y2="78.8" stroke="#111" stroke-width="0.8" />
<text x="109.9" y="86.2" font-size="8.8" fill="#0a0a0a" textLength="56.3" lengthAdjust="spacingAndGlyphs">Cy3 excitation</text>
<text x="109.9" y="146.4" font-size="8.8" fill="#0a0a0a" textLength="56.3" lengthAdjust="spacingAndGlyphs">Cy5 excitation</text>
<text x="294.1" y="88" font-size="8.8" fill="#0a0a0a" textLength="56.3" lengthAdjust="spacingAndGlyphs">Cy3 excitation</text>
<text x="294.1" y="154.2" font-size="8.8" fill="#0a0a0a" textLength="56.3" lengthAdjust="spacingAndGlyphs">Cy5 excitation</text>
<text x="479.1" y="84.6" font-size="8.8" fill="#0a0a0a" textLength="56.3" lengthAdjust="spacingAndGlyphs">Cy3 excitation</text>
<text x="479.1" y="150" font-size="8.8" fill="#0a0a0a" textLength="56.3" lengthAdjust="spacingAndGlyphs">Cy5 excitation</text>
<text x="245.6" y="147.1" font-size="8.7" fill="#ff1010" font-weight="bold" textLength="38.6" lengthAdjust="spacingAndGlyphs">Cy5 PIFE</text>
<line x1="238.3" y1="152.7" x2="246.5" y2="147.4" stroke="#111" stroke-width="0.8" />
<line x1="226.7" y1="89.2" x2="231.6" y2="89.2" stroke="#111" stroke-width="0.8" />
<polygon points="229.9,88.0 232.4,89.2 229.9,90.4" fill="#111"/>
<line x1="236.4" y1="89.2" x2="240.2" y2="89.2" stroke="#111" stroke-width="0.8" />
<polygon points="237.9,88.0 235.4,89.2 237.9,90.4" fill="#111"/>
<text x="241.9" y="90" font-size="9.0" fill="#000" font-style="italic" stroke="#000" stroke-width="0.35">t</text>
<text x="244.6" y="93" font-size="5.3" fill="#000" textLength="13.8" lengthAdjust="spacingAndGlyphs" stroke="#000" stroke-width="0.15">delay</text>
<text x="83" y="203.4" font-size="8.9" fill="#0a0a0a" textLength="32.6" lengthAdjust="spacingAndGlyphs">Time (s)</text>
<text x="267" y="203.4" font-size="8.9" fill="#0a0a0a" textLength="32.6" lengthAdjust="spacingAndGlyphs">Time (s)</text>
<text x="451.5" y="203.4" font-size="8.9" fill="#0a0a0a" textLength="32.6" lengthAdjust="spacingAndGlyphs">Time (s)</text>
<text x="19.5" y="137" font-size="9.0" fill="#0a0a0a" text-anchor="middle" textLength="69" lengthAdjust="spacingAndGlyphs" transform="rotate(-90 19.5 137)">Relative intensity</text>
<text x="203.9" y="137" font-size="9.0" fill="#0a0a0a" text-anchor="middle" textLength="69" lengthAdjust="spacingAndGlyphs" transform="rotate(-90 203.9 137)">Relative intensity</text>
<text x="388" y="137" font-size="9.0" fill="#0a0a0a" text-anchor="middle" textLength="69" lengthAdjust="spacingAndGlyphs" transform="rotate(-90 388 137)">Relative intensity</text>
<text x="7.2" y="223.3" font-size="13.6" fill="#0a0a0a">e</text>
<line x1="39.9" y1="230.8" x2="39.9" y2="324.3" stroke="#111" stroke-width="1.4" />
<line x1="39.2" y1="323.7" x2="166.2" y2="323.7" stroke="#111" stroke-width="1.4" />
<line x1="37.7" y1="323.7" x2="39.9" y2="323.7" stroke="#111" stroke-width="0.9" />
<text x="35.1" y="325.7" font-size="5.8" fill="#111" font-weight="bold" text-anchor="end" textLength="3.4" lengthAdjust="spacingAndGlyphs" stroke="#111" stroke-width="0.22">0</text>
<line x1="37.7" y1="305.12" x2="39.9" y2="305.12" stroke="#111" stroke-width="0.9" />
<text x="35.1" y="307.12" font-size="5.8" fill="#111" font-weight="bold" text-anchor="end" textLength="6.8" lengthAdjust="spacingAndGlyphs" stroke="#111" stroke-width="0.22">20</text>
<line x1="37.7" y1="286.54" x2="39.9" y2="286.54" stroke="#111" stroke-width="0.9" />
<text x="35.1" y="288.54" font-size="5.8" fill="#111" font-weight="bold" text-anchor="end" textLength="6.8" lengthAdjust="spacingAndGlyphs" stroke="#111" stroke-width="0.22">40</text>
<line x1="37.7" y1="267.96" x2="39.9" y2="267.96" stroke="#111" stroke-width="0.9" />
<text x="35.1" y="269.96" font-size="5.8" fill="#111" font-weight="bold" text-anchor="end" textLength="6.8" lengthAdjust="spacingAndGlyphs" stroke="#111" stroke-width="0.22">60</text>
<line x1="37.7" y1="249.38" x2="39.9" y2="249.38" stroke="#111" stroke-width="0.9" />
<text x="35.1" y="251.38" font-size="5.8" fill="#111" font-weight="bold" text-anchor="end" textLength="6.8" lengthAdjust="spacingAndGlyphs" stroke="#111" stroke-width="0.22">80</text>
<line x1="37.7" y1="230.8" x2="39.9" y2="230.8" stroke="#111" stroke-width="0.9" />
<text x="35.1" y="232.8" font-size="5.8" fill="#111" font-weight="bold" text-anchor="end" textLength="10.2" lengthAdjust="spacingAndGlyphs" stroke="#111" stroke-width="0.22">100</text>
<line x1="38.4" y1="314.41" x2="39.9" y2="314.41" stroke="#111" stroke-width="0.8" />
<line x1="38.4" y1="295.83" x2="39.9" y2="295.83" stroke="#111" stroke-width="0.8" />
<line x1="38.4" y1="277.25" x2="39.9" y2="277.25" stroke="#111" stroke-width="0.8" />
<line x1="38.4" y1="258.67" x2="39.9" y2="258.67" stroke="#111" stroke-width="0.8" />
<line x1="38.4" y1="240.09" x2="39.9" y2="240.09" stroke="#111" stroke-width="0.8" />
<line x1="39.9" y1="323.7" x2="39.9" y2="325.7" stroke="#111" stroke-width="0.9" />
<text x="39.9" y="333.9" font-size="5.8" fill="#111" font-weight="bold" text-anchor="middle" textLength="3.4" lengthAdjust="spacingAndGlyphs" stroke="#111" stroke-width="0.22">0</text>
<line x1="60.9" y1="323.7" x2="60.9" y2="325.7" stroke="#111" stroke-width="0.9" />
<text x="60.9" y="333.9" font-size="5.8" fill="#111" font-weight="bold" text-anchor="middle" textLength="10.2" lengthAdjust="spacingAndGlyphs" stroke="#111" stroke-width="0.22">100</text>
<line x1="81.9" y1="323.7" x2="81.9" y2="325.7" stroke="#111" stroke-width="0.9" />
<text x="81.9" y="333.9" font-size="5.8" fill="#111" font-weight="bold" text-anchor="middle" textLength="10.2" lengthAdjust="spacingAndGlyphs" stroke="#111" stroke-width="0.22">200</text>
<line x1="102.9" y1="323.7" x2="102.9" y2="325.7" stroke="#111" stroke-width="0.9" />
<text x="102.9" y="333.9" font-size="5.8" fill="#111" font-weight="bold" text-anchor="middle" textLength="10.2" lengthAdjust="spacingAndGlyphs" stroke="#111" stroke-width="0.22">300</text>
<line x1="123.9" y1="323.7" x2="123.9" y2="325.7" stroke="#111" stroke-width="0.9" />
<text x="123.9" y="333.9" font-size="5.8" fill="#111" font-weight="bold" text-anchor="middle" textLength="10.2" lengthAdjust="spacingAndGlyphs" stroke="#111" stroke-width="0.22">400</text>
<line x1="144.9" y1="323.7" x2="144.9" y2="325.7" stroke="#111" stroke-width="0.9" />
<text x="144.9" y="333.9" font-size="5.8" fill="#111" font-weight="bold" text-anchor="middle" textLength="10.2" lengthAdjust="spacingAndGlyphs" stroke="#111" stroke-width="0.22">500</text>
<line x1="165.9" y1="323.7" x2="165.9" y2="325.7" stroke="#111" stroke-width="0.9" />
<text x="165.9" y="333.9" font-size="5.8" fill="#111" font-weight="bold" text-anchor="middle" textLength="10.2" lengthAdjust="spacingAndGlyphs" stroke="#111" stroke-width="0.22">600</text>
<line x1="50.4" y1="323.7" x2="50.4" y2="325.2" stroke="#111" stroke-width="0.8" />
<line x1="71.4" y1="323.7" x2="71.4" y2="325.2" stroke="#111" stroke-width="0.8" />
<line x1="92.4" y1="323.7" x2="92.4" y2="325.2" stroke="#111" stroke-width="0.8" />
<line x1="113.4" y1="323.7" x2="113.4" y2="325.2" stroke="#111" stroke-width="0.8" />
<line x1="134.4" y1="323.7" x2="134.4" y2="325.2" stroke="#111" stroke-width="0.8" />
<line x1="155.4" y1="323.7" x2="155.4" y2="325.2" stroke="#111" stroke-width="0.8" />
<path d="M40.6,253.35 L42.72,253.42 L44.84,253.56 L46.97,253.76 L49.09,254.02 L51.21,254.33 L53.33,254.7 L55.45,255.12 L57.58,255.59 L59.7,256.1 L61.82,256.65 L63.94,257.23 L66.06,257.86 L68.19,258.51 L70.31,259.2 L72.43,259.91 L74.55,260.65 L76.67,261.41 L78.8,262.19 L80.92,262.98 L83.04,263.8 L85.16,264.62 L87.28,265.46 L89.41,266.31 L91.53,267.16 L93.65,268.02 L95.77,268.89 L97.89,269.76 L100.02,270.63 L102.14,271.49 L104.26,272.36 L106.38,273.22 L108.51,274.08 L110.63,274.93 L112.75,275.78 L114.87,276.61 L116.99,277.44 L119.12,278.26 L121.24,279.07 L123.36,279.86 L125.48,280.64 L127.6,281.42 L129.73,282.17 L131.85,282.92 L133.97,283.65 L136.09,284.36 L138.21,285.06 L140.34,285.75 L142.46,286.42 L144.58,287.08 L146.7,287.72 L148.82,288.35 L150.95,288.96 L153.07,289.56 L155.19,290.15 L157.31,290.72 L159.43,291.28 L161.56,291.83 L163.68,292.37 L165.8,292.89" fill="none" stroke="#ff1010" stroke-width="1.4" stroke-linecap="butt"/>
<line x1="43.1" y1="241.3" x2="43.1" y2="253.8" stroke="#111" stroke-width="0.65" />
<line x1="41.9" y1="241.3" x2="44.3" y2="241.3" stroke="#111" stroke-width="0.65" />
<line x1="41.9" y1="253.8" x2="44.3" y2="253.8" stroke="#111" stroke-width="0.65" />
<rect x="42" y="246.6" width="2.2" height="2.2" fill="#111"/>
<line x1="53.1" y1="241.9" x2="53.1" y2="271.9" stroke="#111" stroke-width="0.65" />
<line x1="51.9" y1="241.9" x2="54.3" y2="241.9" stroke="#111" stroke-width="0.65" />
<line x1="51.9" y1="271.9" x2="54.3" y2="271.9" stroke="#111" stroke-width="0.65" />
<rect x="52" y="255.5" width="2.2" height="2.2" fill="#111"/>
<line x1="63.5" y1="251.2" x2="63.5" y2="265.5" stroke="#111" stroke-width="0.65" />
<line x1="62.3" y1="251.2" x2="64.7" y2="251.2" stroke="#111" stroke-width="0.65" />
<line x1="62.3" y1="265.5" x2="64.7" y2="265.5" stroke="#111" stroke-width="0.65" />
<rect x="62.4" y="256.8" width="2.2" height="2.2" fill="#111"/>
<line x1="84.6" y1="258.2" x2="84.6" y2="282.1" stroke="#111" stroke-width="0.65" />
<line x1="83.4" y1="258.2" x2="85.8" y2="258.2" stroke="#111" stroke-width="0.65" />
<line x1="83.4" y1="282.1" x2="85.8" y2="282.1" stroke="#111" stroke-width="0.65" />
<rect x="83.5" y="268.9" width="2.2" height="2.2" fill="#111"/>
<line x1="105.4" y1="265.8" x2="105.4" y2="284.8" stroke="#111" stroke-width="0.65" />
<line x1="104.2" y1="265.8" x2="106.6" y2="265.8" stroke="#111" stroke-width="0.65" />
<line x1="104.2" y1="284.8" x2="106.6" y2="284.8" stroke="#111" stroke-width="0.65" />
<rect x="104.3" y="274.3" width="2.2" height="2.2" fill="#111"/>
<line x1="147.4" y1="272.9" x2="147.4" y2="292.4" stroke="#111" stroke-width="0.65" />
<line x1="146.2" y1="272.9" x2="148.6" y2="272.9" stroke="#111" stroke-width="0.65" />
<line x1="146.2" y1="292.4" x2="148.6" y2="292.4" stroke="#111" stroke-width="0.65" />
<rect x="146.3" y="281.3" width="2.2" height="2.2" fill="#111"/>
<text x="20.3" y="282.6" font-size="8.8" fill="#0a0a0a" text-anchor="middle" textLength="82" lengthAdjust="spacingAndGlyphs" transform="rotate(-90 20.3 282.6)">PIFE occurrence (%)</text>
<text x="42" y="346.7" font-size="8.9" fill="#0a0a0a" textLength="108.8" lengthAdjust="spacingAndGlyphs">TS-downstream length (bp)</text>
<text x="190.7" y="222.8" font-size="13.6" fill="#0a0a0a">f</text>
<line x1="223.9" y1="231" x2="223.9" y2="324.2" stroke="#111" stroke-width="1.4" />
<line x1="223.2" y1="323.6" x2="349.2" y2="323.6" stroke="#111" stroke-width="1.4" />
<line x1="221.7" y1="323.6" x2="223.9" y2="323.6" stroke="#111" stroke-width="0.9" />
<text x="221.1" y="325.6" font-size="5.8" fill="#111" font-weight="bold" text-anchor="end" textLength="3.4" lengthAdjust="spacingAndGlyphs" stroke="#111" stroke-width="0.22">0</text>
<line x1="221.7" y1="292.73" x2="223.9" y2="292.73" stroke="#111" stroke-width="0.9" />
<text x="221.1" y="294.73" font-size="5.8" fill="#111" font-weight="bold" text-anchor="end" textLength="6.8" lengthAdjust="spacingAndGlyphs" stroke="#111" stroke-width="0.22">10</text>
<line x1="221.7" y1="261.86" x2="223.9" y2="261.86" stroke="#111" stroke-width="0.9" />
<text x="221.1" y="263.86" font-size="5.8" fill="#111" font-weight="bold" text-anchor="end" textLength="6.8" lengthAdjust="spacingAndGlyphs" stroke="#111" stroke-width="0.22">20</text>
<line x1="221.7" y1="230.99" x2="223.9" y2="230.99" stroke="#111" stroke-width="0.9" />
<text x="221.1" y="232.99" font-size="5.8" fill="#111" font-weight="bold" text-anchor="end" textLength="6.8" lengthAdjust="spacingAndGlyphs" stroke="#111" stroke-width="0.22">30</text>
<line x1="222.4" y1="308.17" x2="223.9" y2="308.17" stroke="#111" stroke-width="0.8" />
<line x1="222.4" y1="277.3" x2="223.9" y2="277.3" stroke="#111" stroke-width="0.8" />
<line x1="222.4" y1="246.43" x2="223.9" y2="246.43" stroke="#111" stroke-width="0.8" />
<line x1="224" y1="323.6" x2="224" y2="325.6" stroke="#111" stroke-width="0.9" />
<text x="224" y="331.6" font-size="5.8" fill="#111" font-weight="bold" text-anchor="middle" textLength="3.4" lengthAdjust="spacingAndGlyphs" stroke="#111" stroke-width="0.22">0</text>
<line x1="244.85" y1="323.6" x2="244.85" y2="325.6" stroke="#111" stroke-width="0.9" />
<text x="244.85" y="331.6" font-size="5.8" fill="#111" font-weight="bold" text-anchor="middle" textLength="10.2" lengthAdjust="spacingAndGlyphs" stroke="#111" stroke-width="0.22">100</text>
<line x1="265.7" y1="323.6" x2="265.7" y2="325.6" stroke="#111" stroke-width="0.9" />
<text x="265.7" y="331.6" font-size="5.8" fill="#111" font-weight="bold" text-anchor="middle" textLength="10.2" lengthAdjust="spacingAndGlyphs" stroke="#111" stroke-width="0.22">200</text>
<line x1="286.55" y1="323.6" x2="286.55" y2="325.6" stroke="#111" stroke-width="0.9" />
<text x="286.55" y="331.6" font-size="5.8" fill="#111" font-weight="bold" text-anchor="middle" textLength="10.2" lengthAdjust="spacingAndGlyphs" stroke="#111" stroke-width="0.22">300</text>
<line x1="307.4" y1="323.6" x2="307.4" y2="325.6" stroke="#111" stroke-width="0.9" />
<text x="307.4" y="331.6" font-size="5.8" fill="#111" font-weight="bold" text-anchor="middle" textLength="10.2" lengthAdjust="spacingAndGlyphs" stroke="#111" stroke-width="0.22">400</text>
<line x1="328.25" y1="323.6" x2="328.25" y2="325.6" stroke="#111" stroke-width="0.9" />
<text x="328.25" y="331.6" font-size="5.8" fill="#111" font-weight="bold" text-anchor="middle" textLength="10.2" lengthAdjust="spacingAndGlyphs" stroke="#111" stroke-width="0.22">500</text>
<line x1="349.1" y1="323.6" x2="349.1" y2="325.6" stroke="#111" stroke-width="0.9" />
<text x="349.1" y="331.6" font-size="5.8" fill="#111" font-weight="bold" text-anchor="middle" textLength="10.2" lengthAdjust="spacingAndGlyphs" stroke="#111" stroke-width="0.22">600</text>
<line x1="234.43" y1="323.6" x2="234.43" y2="325.1" stroke="#111" stroke-width="0.8" />
<line x1="255.28" y1="323.6" x2="255.28" y2="325.1" stroke="#111" stroke-width="0.8" />
<line x1="276.12" y1="323.6" x2="276.12" y2="325.1" stroke="#111" stroke-width="0.8" />
<line x1="296.98" y1="323.6" x2="296.98" y2="325.1" stroke="#111" stroke-width="0.8" />
<line x1="317.82" y1="323.6" x2="317.82" y2="325.1" stroke="#111" stroke-width="0.8" />
<line x1="338.68" y1="323.6" x2="338.68" y2="325.1" stroke="#111" stroke-width="0.8" />
<path d="M224.3,323.44 L226.41,323.02 L228.52,322.57 L230.63,322.06 L232.74,321.52 L234.85,320.94 L236.96,320.31 L239.07,319.65 L241.18,318.96 L243.29,318.23 L245.4,317.47 L247.51,316.67 L249.62,315.85 L251.73,315 L253.84,314.12 L255.95,313.22 L258.06,312.29 L260.17,311.34 L262.28,310.37 L264.39,309.38 L266.5,308.37 L268.61,307.34 L270.72,306.3 L272.83,305.25 L274.94,304.19 L277.05,303.11 L279.16,302.03 L281.27,300.94 L283.38,299.84 L285.49,298.74 L287.61,297.63 L289.72,296.53 L291.83,295.42 L293.94,294.32 L296.05,293.21 L298.16,292.12 L300.27,291.03 L302.38,289.94 L304.49,288.87 L306.6,287.81 L308.71,286.75 L310.82,285.71 L312.93,284.69 L315.04,283.68 L317.15,282.7 L319.26,281.73 L321.37,280.78 L323.48,279.85 L325.59,278.95 L327.7,278.07 L329.81,277.22 L331.92,276.4 L334.03,275.61 L336.14,274.85 L338.25,274.12 L340.36,273.43 L342.47,272.77 L344.58,272.15 L346.69,271.57 L348.8,271.03" fill="none" stroke="#ff1010" stroke-width="1.4" stroke-linecap="butt"/>
<rect x="226" y="320.2" width="2.2" height="2.2" fill="#111"/>
<line x1="227.1" y1="319.4" x2="227.1" y2="323.2" stroke="#111" stroke-width="0.7" />
<rect x="235.9" y="319.9" width="2.2" height="2.2" fill="#111"/>
<line x1="237" y1="319.1" x2="237" y2="322.9" stroke="#111" stroke-width="0.7" />
<line x1="247.5" y1="317.3" x2="247.5" y2="321.9" stroke="#111" stroke-width="0.65" />
<line x1="246.3" y1="317.3" x2="248.7" y2="317.3" stroke="#111" stroke-width="0.65" />
<line x1="246.3" y1="321.9" x2="248.7" y2="321.9" stroke="#111" stroke-width="0.65" />
<rect x="246.4" y="318" width="2.2" height="2.2" fill="#111"/>
<line x1="268.5" y1="297.2" x2="268.5" y2="314.4" stroke="#111" stroke-width="0.65" />
<line x1="267.3" y1="297.2" x2="269.7" y2="297.2" stroke="#111" stroke-width="0.65" />
<line x1="267.3" y1="314.4" x2="269.7" y2="314.4" stroke="#111" stroke-width="0.65" />
<rect x="267.4" y="304.7" width="2.2" height="2.2" fill="#111"/>
<line x1="289.5" y1="278.7" x2="289.5" y2="302.8" stroke="#111" stroke-width="0.65" />
<line x1="288.3" y1="278.7" x2="290.7" y2="278.7" stroke="#111" stroke-width="0.65" />
<line x1="288.3" y1="302.8" x2="290.7" y2="302.8" stroke="#111" stroke-width="0.65" />
<rect x="288.4" y="289.7" width="2.2" height="2.2" fill="#111"/>
<line x1="331.5" y1="257.4" x2="331.5" y2="305.2" stroke="#111" stroke-width="0.65" />
<line x1="330.3" y1="257.4" x2="332.7" y2="257.4" stroke="#111" stroke-width="0.65" />
<line x1="330.3" y1="305.2" x2="332.7" y2="305.2" stroke="#111" stroke-width="0.65" />
<rect x="330.4" y="280.1" width="2.2" height="2.2" fill="#111"/>
<text x="204.5" y="282.3" font-size="8.6" fill="#0a0a0a" text-anchor="middle" textLength="54.6" lengthAdjust="spacingAndGlyphs" transform="rotate(-90 204.5 282.3)">PIFE delay (s)</text>
<text x="226.1" y="346.7" font-size="8.9" fill="#0a0a0a" textLength="108.8" lengthAdjust="spacingAndGlyphs">TS-downstream length (bp)</text>
<text x="375" y="222.9" font-size="13.6" fill="#0a0a0a">g</text>
<line x1="408.1" y1="227.1" x2="408.1" y2="329.6" stroke="#111" stroke-width="1.4" />
<line x1="407.4" y1="329" x2="534.8" y2="329" stroke="#111" stroke-width="1.4" />
<line x1="405.9" y1="329" x2="408.1" y2="329" stroke="#111" stroke-width="0.9" />
<text x="405.2" y="331" font-size="5.8" fill="#111" font-weight="bold" text-anchor="end" textLength="3.4" lengthAdjust="spacingAndGlyphs" stroke="#111" stroke-width="0.22">0</text>
<line x1="405.9" y1="310.5" x2="408.1" y2="310.5" stroke="#111" stroke-width="0.9" />
<text x="405.2" y="312.5" font-size="5.8" fill="#111" font-weight="bold" text-anchor="end" textLength="3.4" lengthAdjust="spacingAndGlyphs" stroke="#111" stroke-width="0.22">2</text>
<line x1="405.9" y1="292" x2="408.1" y2="292" stroke="#111" stroke-width="0.9" />
<text x="405.2" y="294" font-size="5.8" fill="#111" font-weight="bold" text-anchor="end" textLength="3.4" lengthAdjust="spacingAndGlyphs" stroke="#111" stroke-width="0.22">4</text>
<line x1="405.9" y1="273.5" x2="408.1" y2="273.5" stroke="#111" stroke-width="0.9" />
<text x="405.2" y="275.5" font-size="5.8" fill="#111" font-weight="bold" text-anchor="end" textLength="3.4" lengthAdjust="spacingAndGlyphs" stroke="#111" stroke-width="0.22">6</text>
<line x1="405.9" y1="255" x2="408.1" y2="255" stroke="#111" stroke-width="0.9" />
<text x="405.2" y="257" font-size="5.8" fill="#111" font-weight="bold" text-anchor="end" textLength="3.4" lengthAdjust="spacingAndGlyphs" stroke="#111" stroke-width="0.22">8</text>
<line x1="405.9" y1="236.5" x2="408.1" y2="236.5" stroke="#111" stroke-width="0.9" />
<text x="405.2" y="238.5" font-size="5.8" fill="#111" font-weight="bold" text-anchor="end" textLength="6.8" lengthAdjust="spacingAndGlyphs" stroke="#111" stroke-width="0.22">10</text>
<line x1="406.6" y1="319.75" x2="408.1" y2="319.75" stroke="#111" stroke-width="0.8" />
<line x1="406.6" y1="301.25" x2="408.1" y2="301.25" stroke="#111" stroke-width="0.8" />
<line x1="406.6" y1="282.75" x2="408.1" y2="282.75" stroke="#111" stroke-width="0.8" />
<line x1="406.6" y1="264.25" x2="408.1" y2="264.25" stroke="#111" stroke-width="0.8" />
<line x1="406.6" y1="245.75" x2="408.1" y2="245.75" stroke="#111" stroke-width="0.8" />
<line x1="406.6" y1="227.25" x2="408.1" y2="227.25" stroke="#111" stroke-width="0.8" />
<line x1="408.1" y1="329" x2="408.1" y2="331" stroke="#111" stroke-width="0.9" />
<text x="408.1" y="337.9" font-size="5.8" fill="#111" font-weight="bold" text-anchor="middle" textLength="3.4" lengthAdjust="spacingAndGlyphs" stroke="#111" stroke-width="0.22">0</text>
<line x1="435.9" y1="329" x2="435.9" y2="331" stroke="#111" stroke-width="0.9" />
<text x="435.9" y="337.9" font-size="5.8" fill="#111" font-weight="bold" text-anchor="middle" textLength="6.8" lengthAdjust="spacingAndGlyphs" stroke="#111" stroke-width="0.22">50</text>
<line x1="463.7" y1="329" x2="463.7" y2="331" stroke="#111" stroke-width="0.9" />
<text x="463.7" y="337.9" font-size="5.8" fill="#111" font-weight="bold" text-anchor="middle" textLength="10.2" lengthAdjust="spacingAndGlyphs" stroke="#111" stroke-width="0.22">100</text>
<line x1="491.5" y1="329" x2="491.5" y2="331" stroke="#111" stroke-width="0.9" />
<text x="491.5" y="337.9" font-size="5.8" fill="#111" font-weight="bold" text-anchor="middle" textLength="10.2" lengthAdjust="spacingAndGlyphs" stroke="#111" stroke-width="0.22">150</text>
<line x1="519.3" y1="329" x2="519.3" y2="331" stroke="#111" stroke-width="0.9" />
<text x="519.3" y="337.9" font-size="5.8" fill="#111" font-weight="bold" text-anchor="middle" textLength="10.2" lengthAdjust="spacingAndGlyphs" stroke="#111" stroke-width="0.22">200</text>
<line x1="422" y1="329" x2="422" y2="330.5" stroke="#111" stroke-width="0.8" />
<line x1="449.8" y1="329" x2="449.8" y2="330.5" stroke="#111" stroke-width="0.8" />
<line x1="477.6" y1="329" x2="477.6" y2="330.5" stroke="#111" stroke-width="0.8" />
<line x1="505.4" y1="329" x2="505.4" y2="330.5" stroke="#111" stroke-width="0.8" />
<line x1="533.2" y1="329" x2="533.2" y2="330.5" stroke="#111" stroke-width="0.8" />
<line x1="419.2" y1="306.9" x2="419.2" y2="319.8" stroke="#4be84b" stroke-width="0.9" />
<line x1="418.2" y1="306.9" x2="420.2" y2="306.9" stroke="#4be84b" stroke-width="0.9" />
<line x1="418.2" y1="319.8" x2="420.2" y2="319.8" stroke="#4be84b" stroke-width="0.9" />
<line x1="436" y1="293.7" x2="436" y2="306.3" stroke="#4be84b" stroke-width="0.9" />
<line x1="435" y1="293.7" x2="437" y2="293.7" stroke="#4be84b" stroke-width="0.9" />
<line x1="435" y1="306.3" x2="437" y2="306.3" stroke="#4be84b" stroke-width="0.9" />
<line x1="463.8" y1="292.1" x2="463.8" y2="312.3" stroke="#4be84b" stroke-width="0.9" />
<line x1="462.8" y1="292.1" x2="464.8" y2="292.1" stroke="#4be84b" stroke-width="0.9" />
<line x1="462.8" y1="312.3" x2="464.8" y2="312.3" stroke="#4be84b" stroke-width="0.9" />
<line x1="491.6" y1="246.3" x2="491.6" y2="283.5" stroke="#4be84b" stroke-width="0.9" />
<line x1="490.6" y1="246.3" x2="492.6" y2="246.3" stroke="#4be84b" stroke-width="0.9" />
<line x1="490.6" y1="283.5" x2="492.6" y2="283.5" stroke="#4be84b" stroke-width="0.9" />
<line x1="519.4" y1="253.8" x2="519.4" y2="268.6" stroke="#4be84b" stroke-width="0.9" />
<line x1="518.4" y1="253.8" x2="520.4" y2="253.8" stroke="#4be84b" stroke-width="0.9" />
<line x1="518.4" y1="268.6" x2="520.4" y2="268.6" stroke="#4be84b" stroke-width="0.9" />
<line x1="419.2" y1="311.7" x2="419.2" y2="319" stroke="#ff6a6a" stroke-width="0.9" />
<line x1="418.2" y1="311.7" x2="420.2" y2="311.7" stroke="#ff6a6a" stroke-width="0.9" />
<line x1="418.2" y1="319" x2="420.2" y2="319" stroke="#ff6a6a" stroke-width="0.9" />
<line x1="436" y1="304.4" x2="436" y2="310.9" stroke="#ff6a6a" stroke-width="0.9" />
<line x1="435" y1="304.4" x2="437" y2="304.4" stroke="#ff6a6a" stroke-width="0.9" />
<line x1="435" y1="310.9" x2="437" y2="310.9" stroke="#ff6a6a" stroke-width="0.9" />
<line x1="463.8" y1="299.6" x2="463.8" y2="303.9" stroke="#ff6a6a" stroke-width="0.9" />
<line x1="462.8" y1="299.6" x2="464.8" y2="299.6" stroke="#ff6a6a" stroke-width="0.9" />
<line x1="462.8" y1="303.9" x2="464.8" y2="303.9" stroke="#ff6a6a" stroke-width="0.9" />
<line x1="491.6" y1="256.5" x2="491.6" y2="283.5" stroke="#ff6a6a" stroke-width="0.9" />
<line x1="490.6" y1="256.5" x2="492.6" y2="256.5" stroke="#ff6a6a" stroke-width="0.9" />
<line x1="490.6" y1="283.5" x2="492.6" y2="283.5" stroke="#ff6a6a" stroke-width="0.9" />
<line x1="519.4" y1="241.7" x2="519.4" y2="253.3" stroke="#ff6a6a" stroke-width="0.9" />
<line x1="518.4" y1="241.7" x2="520.4" y2="241.7" stroke="#ff6a6a" stroke-width="0.9" />
<line x1="518.4" y1="253.3" x2="520.4" y2="253.3" stroke="#ff6a6a" stroke-width="0.9" />
<polyline points="419.2,315 436,307.7 463.8,301.8 491.6,269.5 519.4,247.7" fill="none" stroke="#ff2020" stroke-width="1.2"/>
<polyline points="419.2,313.6 436,300.1 463.8,301.8 491.6,264.6 519.4,261.1" fill="none" stroke="#18e818" stroke-width="1.2"/>
<rect x="418" y="312.4" width="2.4" height="2.4" fill="#1ec81e"/>
<rect x="434.8" y="298.9" width="2.4" height="2.4" fill="#1ec81e"/>
<rect x="462.6" y="300.6" width="2.4" height="2.4" fill="#1ec81e"/>
<rect x="490.4" y="263.4" width="2.4" height="2.4" fill="#1ec81e"/>
<rect x="518.2" y="259.9" width="2.4" height="2.4" fill="#1ec81e"/>
<rect x="418" y="313.8" width="2.4" height="2.4" fill="#f01010"/>
<rect x="434.8" y="306.5" width="2.4" height="2.4" fill="#f01010"/>
<rect x="462.6" y="300.6" width="2.4" height="2.4" fill="#f01010"/>
<rect x="490.4" y="268.3" width="2.4" height="2.4" fill="#f01010"/>
<rect x="518.2" y="246.5" width="2.4" height="2.4" fill="#f01010"/>
<text x="391.2" y="279" font-size="8.8" fill="#0a0a0a" text-anchor="middle" textLength="79" lengthAdjust="spacingAndGlyphs" transform="rotate(-90 391.2 279)">Diffusion coefficient</text>
<text x="400.4" y="282.7" font-size="8.8" fill="#0a0a0a" text-anchor="middle" transform="rotate(-90 400.4 282.7)">(X10<tspan font-size="5.2" dy="-3">-4</tspan><tspan dy="3"> µm</tspan><tspan font-size="5.2" dy="-3">2</tspan><tspan dy="3">/s)</tspan></text>
<text x="447.6" y="346.4" font-size="8.7" fill="#0a0a0a" textLength="47.2" lengthAdjust="spacingAndGlyphs">[NaCl] (mM)</text>
</svg>
</body></html>
